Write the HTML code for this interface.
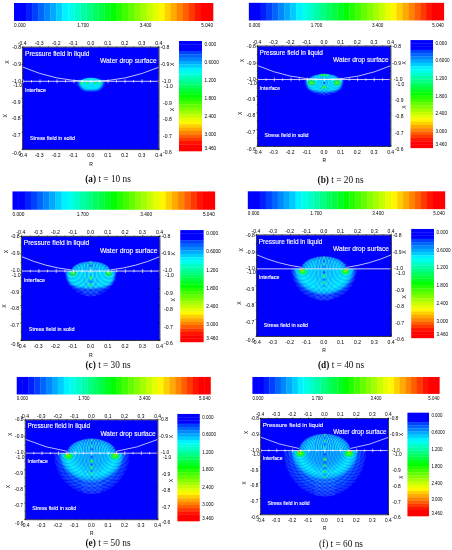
<!DOCTYPE html>
<html><head><meta charset="utf-8"><title>Figure</title>
<style>html,body{margin:0;padding:0;background:#fff}svg{display:block}text{font-family:"Liberation Sans",sans-serif}.cap{font-family:"Liberation Serif",serif;font-size:9.3px;fill:#111}.cap tspan{font-weight:bold}</style></head><body>
<svg width="452" height="550" viewBox="0 0 452 550">
<rect width="452" height="550" fill="#fff"/>
<defs><filter id="blur" x="-10%" y="-10%" width="120%" height="120%"><feGaussianBlur stdDeviation="0.4"/></filter><filter id="blur1" x="-30%" y="-30%" width="160%" height="160%"><feGaussianBlur stdDeviation="1.0"/></filter><filter id="blur2" x="-30%" y="-30%" width="160%" height="160%"><feGaussianBlur stdDeviation="1.8"/></filter><radialGradient id="gr"><stop offset="0" stop-color="#90ff00" stop-opacity="1"/><stop offset="0.38" stop-color="#10ff10" stop-opacity="0.92"/><stop offset="0.7" stop-color="#00ff40" stop-opacity="0.5"/><stop offset="1" stop-color="#00ff80" stop-opacity="0"/></radialGradient><radialGradient id="mb"><stop offset="0" stop-color="#00d0ff"/><stop offset="0.45" stop-color="#00dcff"/><stop offset="0.72" stop-color="#00f8ff"/><stop offset="0.88" stop-color="#00c8ff" stop-opacity="0.95"/><stop offset="1" stop-color="#0050ff" stop-opacity="0"/></radialGradient><radialGradient id="rd"><stop offset="0" stop-color="#ff2000" stop-opacity="1"/><stop offset="0.5" stop-color="#ffb000" stop-opacity="0.9"/><stop offset="1" stop-color="#c0ff00" stop-opacity="0"/></radialGradient><clipPath id="clo"><rect x="0" y="81.3" width="200" height="100"/></clipPath><clipPath id="cL"><rect x="0" y="0" width="102.0" height="200"/></clipPath><clipPath id="cR"><rect x="80.0" y="0" width="200" height="200"/></clipPath><clipPath id="cup"><rect x="0" y="0" width="200" height="81.3"/></clipPath></defs>
<defs><clipPath id="clipa"><rect x="23" y="47.4" width="135.7" height="102.0"/></clipPath></defs>
<g transform="translate(-0.00,-0.00) scale(1.0000)">
<rect x="14.00" y="3" width="6.33" height="18" fill="#0000ff"/>
<rect x="20.03" y="3" width="6.33" height="18" fill="#0000ff"/>
<rect x="26.06" y="3" width="6.33" height="18" fill="#001eff"/>
<rect x="32.09" y="3" width="6.33" height="18" fill="#0041ff"/>
<rect x="38.12" y="3" width="6.33" height="18" fill="#0064ff"/>
<rect x="44.15" y="3" width="6.33" height="18" fill="#0087ff"/>
<rect x="50.18" y="3" width="6.33" height="18" fill="#00aaff"/>
<rect x="56.21" y="3" width="6.33" height="18" fill="#00cdff"/>
<rect x="62.24" y="3" width="6.33" height="18" fill="#00f1ff"/>
<rect x="68.27" y="3" width="6.33" height="18" fill="#00ffeb"/>
<rect x="74.30" y="3" width="6.33" height="18" fill="#00ffca"/>
<rect x="80.33" y="3" width="6.33" height="18" fill="#00ffa8"/>
<rect x="86.36" y="3" width="6.33" height="18" fill="#00ff86"/>
<rect x="92.39" y="3" width="6.33" height="18" fill="#00ff65"/>
<rect x="98.42" y="3" width="6.33" height="18" fill="#00ff43"/>
<rect x="104.45" y="3" width="6.33" height="18" fill="#00ff22"/>
<rect x="110.48" y="3" width="6.33" height="18" fill="#00ff00"/>
<rect x="116.52" y="3" width="6.33" height="18" fill="#21ff00"/>
<rect x="122.55" y="3" width="6.33" height="18" fill="#42ff00"/>
<rect x="128.58" y="3" width="6.33" height="18" fill="#63ff00"/>
<rect x="134.61" y="3" width="6.33" height="18" fill="#84ff00"/>
<rect x="140.64" y="3" width="6.33" height="18" fill="#a4ff00"/>
<rect x="146.67" y="3" width="6.33" height="18" fill="#c5ff00"/>
<rect x="152.70" y="3" width="6.33" height="18" fill="#e6ff00"/>
<rect x="158.73" y="3" width="6.33" height="18" fill="#fff600"/>
<rect x="164.76" y="3" width="6.33" height="18" fill="#ffd000"/>
<rect x="170.79" y="3" width="6.33" height="18" fill="#ffaa00"/>
<rect x="176.82" y="3" width="6.33" height="18" fill="#ff8500"/>
<rect x="182.85" y="3" width="6.33" height="18" fill="#ff5f00"/>
<rect x="188.88" y="3" width="6.33" height="18" fill="#ff3900"/>
<rect x="194.91" y="3" width="6.33" height="18" fill="#ff1400"/>
<rect x="200.94" y="3" width="6.33" height="18" fill="#ff0000"/>
<rect x="206.97" y="3" width="6.33" height="18" fill="#ff0000"/>
<g font-size="4.7" fill="#000">
<text x="14" y="27.2">0.000</text>
<text x="83" y="27.2" text-anchor="middle">1.700</text>
<text x="145.5" y="27.2" text-anchor="middle">3.400</text>
<text x="213" y="27.2" text-anchor="end">5.040</text>
</g>
<rect x="179" y="41.00" width="23" height="3.63" fill="#0000ff"/>
<rect x="179" y="44.33" width="23" height="3.63" fill="#0000ff"/>
<rect x="179" y="47.67" width="23" height="3.63" fill="#0000ff"/>
<rect x="179" y="51.00" width="23" height="3.63" fill="#0041ff"/>
<rect x="179" y="54.33" width="23" height="3.63" fill="#0064ff"/>
<rect x="179" y="57.67" width="23" height="3.63" fill="#0087ff"/>
<rect x="179" y="61.00" width="23" height="3.63" fill="#00aaff"/>
<rect x="179" y="64.33" width="23" height="3.63" fill="#00cdff"/>
<rect x="179" y="67.67" width="23" height="3.63" fill="#00f1ff"/>
<rect x="179" y="71.00" width="23" height="3.63" fill="#00ffeb"/>
<rect x="179" y="74.33" width="23" height="3.63" fill="#00ffca"/>
<rect x="179" y="77.67" width="23" height="3.63" fill="#00ffa8"/>
<rect x="179" y="81.00" width="23" height="3.63" fill="#00ff86"/>
<rect x="179" y="84.33" width="23" height="3.63" fill="#00ff65"/>
<rect x="179" y="87.67" width="23" height="3.63" fill="#00ff43"/>
<rect x="179" y="91.00" width="23" height="3.63" fill="#00ff22"/>
<rect x="179" y="94.33" width="23" height="3.63" fill="#00ff00"/>
<rect x="179" y="97.67" width="23" height="3.63" fill="#21ff00"/>
<rect x="179" y="101.00" width="23" height="3.63" fill="#42ff00"/>
<rect x="179" y="104.33" width="23" height="3.63" fill="#63ff00"/>
<rect x="179" y="107.67" width="23" height="3.63" fill="#84ff00"/>
<rect x="179" y="111.00" width="23" height="3.63" fill="#a4ff00"/>
<rect x="179" y="114.33" width="23" height="3.63" fill="#c5ff00"/>
<rect x="179" y="117.67" width="23" height="3.63" fill="#e6ff00"/>
<rect x="179" y="121.00" width="23" height="3.63" fill="#fff600"/>
<rect x="179" y="124.33" width="23" height="3.63" fill="#ffd000"/>
<rect x="179" y="127.67" width="23" height="3.63" fill="#ffaa00"/>
<rect x="179" y="131.00" width="23" height="3.63" fill="#ff8500"/>
<rect x="179" y="134.33" width="23" height="3.63" fill="#ff5f00"/>
<rect x="179" y="137.67" width="23" height="3.63" fill="#ff3900"/>
<rect x="179" y="141.00" width="23" height="3.63" fill="#ff1400"/>
<rect x="179" y="144.33" width="23" height="3.63" fill="#ff0000"/>
<rect x="179" y="147.67" width="23" height="3.63" fill="#ff0000"/>
<g font-size="4.7" fill="#000">
<text x="204.5" y="46.0">0.000</text>
<text x="204.5" y="63.9">0.6000</text>
<text x="204.5" y="81.8">1.200</text>
<text x="204.5" y="99.7">1.800</text>
<text x="204.5" y="117.6">2.400</text>
<text x="204.5" y="135.5">3.000</text>
<text x="204.5" y="149.6">3.460</text>
</g>
<rect x="23" y="47.4" width="135.7" height="102.0" fill="#0000ff"/>
<g clip-path="url(#clipa)">
<g filter="url(#blur)">
<defs><radialGradient id="loa"><stop offset="0" stop-color="#00f4ff"/><stop offset="0.72" stop-color="#00e0ff"/><stop offset="0.9" stop-color="#0088ff"/><stop offset="1" stop-color="#0010ff"/></radialGradient></defs>
<path d="M78.4 80.8Q78.2 86.8 84.0 89.89999999999999Q91.0 91.3 98.0 89.89999999999999Q103.8 86.8 103.6 80.8Z" fill="#00e4ff" filter="url(#blur1)"/>
<path d="M81.0 81.3A10 3.6 0 0 1 101.0 81.3Z" fill="#00d8ff"/>
<ellipse cx="81.60" cy="83.00" rx="2.00" ry="1.90" fill="url(#gr)" opacity="0.8"/>
<ellipse cx="86.70" cy="83.00" rx="2.00" ry="1.90" fill="url(#gr)" opacity="0.8"/>
<ellipse cx="95.10" cy="83.00" rx="2.00" ry="1.90" fill="url(#gr)" opacity="0.8"/>
<ellipse cx="100.00" cy="83.00" rx="2.00" ry="1.90" fill="url(#gr)" opacity="0.8"/>
</g>
<path d="M23 67.11A170.0 170.0 0 0 0 158.7 67.24" stroke="#fff" stroke-width="0.75" fill="none"/>
<line x1="23" y1="81.3" x2="158.7" y2="81.3" stroke="#fff" stroke-width="0.8"/>
<path d="M23.00 79.40V83.20M31.50 80.00V82.60M40.00 79.40V83.20M48.50 80.00V82.60M57.00 79.40V83.20M65.50 80.00V82.60M74.00 79.40V83.20M82.50 80.00V82.60M91.00 79.40V83.20M99.50 80.00V82.60M108.00 79.40V83.20M116.50 80.00V82.60M125.00 79.40V83.20M133.50 80.00V82.60M142.00 79.40V83.20M150.50 80.00V82.60M159.00 79.40V83.20" stroke="#fff" stroke-width="0.7" fill="none"/>
<g fill="#fff" stroke="#fff" stroke-width="0.12">
<text x="25" y="55.8" font-size="6.6">Pressure field in liquid</text>
<text x="100" y="63.2" font-size="6.7">Water drop surface</text>
<text x="25" y="91.8" font-size="5.4">Interface</text>
<text x="30" y="139.8" font-size="5.4">Stress field in solid</text>
</g>
</g>
<rect x="22.65" y="47.05" width="136.39999999999998" height="102.7" fill="none" stroke="#000" stroke-width="0.7"/>
<path d="M23.00 47.4v-1.6M23.00 149.4v-1.6M31.50 47.4v-1.0M31.50 149.4v-1.0M40.00 47.4v-1.6M40.00 149.4v-1.6M48.50 47.4v-1.0M48.50 149.4v-1.0M57.00 47.4v-1.6M57.00 149.4v-1.6M65.50 47.4v-1.0M65.50 149.4v-1.0M74.00 47.4v-1.6M74.00 149.4v-1.6M82.50 47.4v-1.0M82.50 149.4v-1.0M91.00 47.4v-1.6M91.00 149.4v-1.6M99.50 47.4v-1.0M99.50 149.4v-1.0M108.00 47.4v-1.6M108.00 149.4v-1.6M116.50 47.4v-1.0M116.50 149.4v-1.0M125.00 47.4v-1.6M125.00 149.4v-1.6M133.50 47.4v-1.0M133.50 149.4v-1.0M142.00 47.4v-1.6M142.00 149.4v-1.6M150.50 47.4v-1.0M150.50 149.4v-1.0M159.00 47.4v-1.6M159.00 149.4v-1.6M23 47.40h-1.6M158.7 47.40h-1.6M23 55.90h-1.0M158.7 55.90h-1.0M23 64.40h-1.6M158.7 64.40h-1.6M23 72.90h-1.0M158.7 72.90h-1.0M23 81.40h-1.6M158.7 81.40h-1.6M23 89.90h-1.0M158.7 89.90h-1.0M23 98.40h-1.6M158.7 98.40h-1.6M23 106.90h-1.0M158.7 106.90h-1.0M23 115.40h-1.6M158.7 115.40h-1.6M23 123.90h-1.0M158.7 123.90h-1.0M23 132.40h-1.6M158.7 132.40h-1.6M23 140.90h-1.0M158.7 140.90h-1.0M23 149.40h-1.6M158.7 149.40h-1.6" stroke="#000" stroke-width="0.45" fill="none"/>
<g font-size="5.1" fill="#000">
<text x="22.2" y="44.7" text-anchor="middle">-0.4</text>
<text x="22.8" y="157.0" text-anchor="middle">-0.4</text>
<text x="39.2" y="44.7" text-anchor="middle">-0.3</text>
<text x="39.2" y="157.0" text-anchor="middle">-0.3</text>
<text x="56.2" y="44.7" text-anchor="middle">-0.2</text>
<text x="56.2" y="157.0" text-anchor="middle">-0.2</text>
<text x="73.2" y="44.7" text-anchor="middle">-0.1</text>
<text x="73.2" y="157.0" text-anchor="middle">-0.1</text>
<text x="90.7" y="44.7" text-anchor="middle">0.0</text>
<text x="90.7" y="157.0" text-anchor="middle">0.0</text>
<text x="107.7" y="44.7" text-anchor="middle">0.1</text>
<text x="107.7" y="157.0" text-anchor="middle">0.1</text>
<text x="124.7" y="44.7" text-anchor="middle">0.2</text>
<text x="124.7" y="157.0" text-anchor="middle">0.2</text>
<text x="141.7" y="44.7" text-anchor="middle">0.3</text>
<text x="141.7" y="157.0" text-anchor="middle">0.3</text>
<text x="158.7" y="44.7" text-anchor="middle">0.4</text>
<text x="158.7" y="157.0" text-anchor="middle">0.4</text>
<text x="21" y="48.7" text-anchor="end">-0.8</text>
<text x="21" y="66.0" text-anchor="end">-0.9</text>
<text x="21" y="82.5" text-anchor="end">-1.0</text>
<text x="22" y="86.9" text-anchor="end">-1.0</text>
<text x="20.5" y="103.7" text-anchor="end">-0.9</text>
<text x="20.5" y="120.0" text-anchor="end">-0.8</text>
<text x="20.5" y="136.7" text-anchor="end">-0.7</text>
<text x="21" y="154.7" text-anchor="end">-0.6</text>
<text x="160.5" y="48.7">-0.8</text>
<text x="160.5" y="66.0">-0.9</text>
<text x="162" y="82.6">-1.0</text>
<text x="164" y="87.5">-1.0</text>
<text x="163" y="104.5">-0.9</text>
<text x="163" y="120.7">-0.8</text>
<text x="163" y="138.2">-0.7</text>
<text x="163" y="154.4">-0.6</text>
<text x="91" y="165.5" text-anchor="middle">R</text>
<text transform="translate(9.4,62) rotate(-90)" text-anchor="middle">X</text>
<text transform="translate(7.4,115.75) rotate(-90)" text-anchor="middle">X</text>
<text transform="translate(174.0,64.25) rotate(-90)" text-anchor="middle">X</text>
<text transform="translate(174.0,109.5) rotate(-90)" text-anchor="middle">X</text>
</g>
</g>
<text class="cap" x="108" y="182.3" text-anchor="middle"><tspan>(a)</tspan> t = 10 ns</text>
<defs><clipPath id="clipb"><rect x="23" y="47.4" width="135.7" height="102.0"/></clipPath></defs>
<g transform="translate(235.13,-0.11) scale(0.9797)">
<rect x="14.00" y="3" width="6.33" height="18" fill="#0000ff"/>
<rect x="20.03" y="3" width="6.33" height="18" fill="#0000ff"/>
<rect x="26.06" y="3" width="6.33" height="18" fill="#001eff"/>
<rect x="32.09" y="3" width="6.33" height="18" fill="#0041ff"/>
<rect x="38.12" y="3" width="6.33" height="18" fill="#0064ff"/>
<rect x="44.15" y="3" width="6.33" height="18" fill="#0087ff"/>
<rect x="50.18" y="3" width="6.33" height="18" fill="#00aaff"/>
<rect x="56.21" y="3" width="6.33" height="18" fill="#00cdff"/>
<rect x="62.24" y="3" width="6.33" height="18" fill="#00f1ff"/>
<rect x="68.27" y="3" width="6.33" height="18" fill="#00ffeb"/>
<rect x="74.30" y="3" width="6.33" height="18" fill="#00ffca"/>
<rect x="80.33" y="3" width="6.33" height="18" fill="#00ffa8"/>
<rect x="86.36" y="3" width="6.33" height="18" fill="#00ff86"/>
<rect x="92.39" y="3" width="6.33" height="18" fill="#00ff65"/>
<rect x="98.42" y="3" width="6.33" height="18" fill="#00ff43"/>
<rect x="104.45" y="3" width="6.33" height="18" fill="#00ff22"/>
<rect x="110.48" y="3" width="6.33" height="18" fill="#00ff00"/>
<rect x="116.52" y="3" width="6.33" height="18" fill="#21ff00"/>
<rect x="122.55" y="3" width="6.33" height="18" fill="#42ff00"/>
<rect x="128.58" y="3" width="6.33" height="18" fill="#63ff00"/>
<rect x="134.61" y="3" width="6.33" height="18" fill="#84ff00"/>
<rect x="140.64" y="3" width="6.33" height="18" fill="#a4ff00"/>
<rect x="146.67" y="3" width="6.33" height="18" fill="#c5ff00"/>
<rect x="152.70" y="3" width="6.33" height="18" fill="#e6ff00"/>
<rect x="158.73" y="3" width="6.33" height="18" fill="#fff600"/>
<rect x="164.76" y="3" width="6.33" height="18" fill="#ffd000"/>
<rect x="170.79" y="3" width="6.33" height="18" fill="#ffaa00"/>
<rect x="176.82" y="3" width="6.33" height="18" fill="#ff8500"/>
<rect x="182.85" y="3" width="6.33" height="18" fill="#ff5f00"/>
<rect x="188.88" y="3" width="6.33" height="18" fill="#ff3900"/>
<rect x="194.91" y="3" width="6.33" height="18" fill="#ff1400"/>
<rect x="200.94" y="3" width="6.33" height="18" fill="#ff0000"/>
<rect x="206.97" y="3" width="6.33" height="18" fill="#ff0000"/>
<g font-size="4.7" fill="#000">
<text x="14" y="27.2">0.000</text>
<text x="83" y="27.2" text-anchor="middle">1.700</text>
<text x="145.5" y="27.2" text-anchor="middle">3.400</text>
<text x="213" y="27.2" text-anchor="end">5.040</text>
</g>
<rect x="179" y="41.00" width="23" height="3.63" fill="#0000ff"/>
<rect x="179" y="44.33" width="23" height="3.63" fill="#0000ff"/>
<rect x="179" y="47.67" width="23" height="3.63" fill="#0000ff"/>
<rect x="179" y="51.00" width="23" height="3.63" fill="#0041ff"/>
<rect x="179" y="54.33" width="23" height="3.63" fill="#0064ff"/>
<rect x="179" y="57.67" width="23" height="3.63" fill="#0087ff"/>
<rect x="179" y="61.00" width="23" height="3.63" fill="#00aaff"/>
<rect x="179" y="64.33" width="23" height="3.63" fill="#00cdff"/>
<rect x="179" y="67.67" width="23" height="3.63" fill="#00f1ff"/>
<rect x="179" y="71.00" width="23" height="3.63" fill="#00ffeb"/>
<rect x="179" y="74.33" width="23" height="3.63" fill="#00ffca"/>
<rect x="179" y="77.67" width="23" height="3.63" fill="#00ffa8"/>
<rect x="179" y="81.00" width="23" height="3.63" fill="#00ff86"/>
<rect x="179" y="84.33" width="23" height="3.63" fill="#00ff65"/>
<rect x="179" y="87.67" width="23" height="3.63" fill="#00ff43"/>
<rect x="179" y="91.00" width="23" height="3.63" fill="#00ff22"/>
<rect x="179" y="94.33" width="23" height="3.63" fill="#00ff00"/>
<rect x="179" y="97.67" width="23" height="3.63" fill="#21ff00"/>
<rect x="179" y="101.00" width="23" height="3.63" fill="#42ff00"/>
<rect x="179" y="104.33" width="23" height="3.63" fill="#63ff00"/>
<rect x="179" y="107.67" width="23" height="3.63" fill="#84ff00"/>
<rect x="179" y="111.00" width="23" height="3.63" fill="#a4ff00"/>
<rect x="179" y="114.33" width="23" height="3.63" fill="#c5ff00"/>
<rect x="179" y="117.67" width="23" height="3.63" fill="#e6ff00"/>
<rect x="179" y="121.00" width="23" height="3.63" fill="#fff600"/>
<rect x="179" y="124.33" width="23" height="3.63" fill="#ffd000"/>
<rect x="179" y="127.67" width="23" height="3.63" fill="#ffaa00"/>
<rect x="179" y="131.00" width="23" height="3.63" fill="#ff8500"/>
<rect x="179" y="134.33" width="23" height="3.63" fill="#ff5f00"/>
<rect x="179" y="137.67" width="23" height="3.63" fill="#ff3900"/>
<rect x="179" y="141.00" width="23" height="3.63" fill="#ff1400"/>
<rect x="179" y="144.33" width="23" height="3.63" fill="#ff0000"/>
<rect x="179" y="147.67" width="23" height="3.63" fill="#ff0000"/>
<g font-size="4.7" fill="#000">
<text x="204.5" y="46.0">0.000</text>
<text x="204.5" y="63.9">0.6000</text>
<text x="204.5" y="81.8">1.200</text>
<text x="204.5" y="99.7">1.800</text>
<text x="204.5" y="117.6">2.400</text>
<text x="204.5" y="135.5">3.000</text>
<text x="204.5" y="149.6">3.460</text>
</g>
<rect x="23" y="47.4" width="135.7" height="102.0" fill="#0000ff"/>
<g clip-path="url(#clipb)">
<defs>
<radialGradient id="lob" gradientUnits="userSpaceOnUse" cx="91.0" cy="81.3" r="19.8" gradientTransform="translate(0,81.3) scale(1,0.8182) translate(0,-81.3)"><stop offset="0.000" stop-color="#0083ff"/><stop offset="0.065" stop-color="#0054ff"/><stop offset="0.130" stop-color="#0028ff"/><stop offset="0.194" stop-color="#004eff"/><stop offset="0.259" stop-color="#0071ff"/><stop offset="0.324" stop-color="#0048ff"/><stop offset="0.389" stop-color="#0021ff"/><stop offset="0.454" stop-color="#003dff"/><stop offset="0.519" stop-color="#0053ff"/><stop offset="0.583" stop-color="#0030ff"/><stop offset="0.648" stop-color="#0014ff"/><stop offset="0.713" stop-color="#0022ff"/><stop offset="0.778" stop-color="#0029ff"/><stop offset="0.843" stop-color="#0014ff"/><stop offset="0.907" stop-color="#0006ff"/><stop offset="0.972" stop-color="#0004ff"/></radialGradient>
<radialGradient id="upb" gradientUnits="userSpaceOnUse" cx="91.0" cy="81.3" r="15.6" gradientTransform="translate(0,81.3) scale(1,0.3718) translate(0,-81.3)"><stop offset="0" stop-color="#00e4ff"/><stop offset="0.7" stop-color="#00d4ff"/><stop offset="0.92" stop-color="#00a0ff"/><stop offset="1" stop-color="#0040ff"/></radialGradient>
<radialGradient id="ruLb" gradientUnits="userSpaceOnUse" cx="80.0" cy="81.3" r="2.6" spreadMethod="repeat"><stop offset="0" stop-color="#0018ff" stop-opacity="0.23"/><stop offset="0.5" stop-color="#60ffff" stop-opacity="0.12"/><stop offset="1" stop-color="#0018ff" stop-opacity="0.23"/></radialGradient>
<radialGradient id="rlLb" gradientUnits="userSpaceOnUse" cx="80.0" cy="81.3" r="2.9" spreadMethod="repeat"><stop offset="0" stop-color="#0010ff" stop-opacity="0.14"/><stop offset="0.5" stop-color="#80ffff" stop-opacity="0.14"/><stop offset="1" stop-color="#0010ff" stop-opacity="0.14"/></radialGradient>
<radialGradient id="ruRb" gradientUnits="userSpaceOnUse" cx="102.0" cy="81.3" r="2.6" spreadMethod="repeat"><stop offset="0" stop-color="#0018ff" stop-opacity="0.23"/><stop offset="0.5" stop-color="#60ffff" stop-opacity="0.12"/><stop offset="1" stop-color="#0018ff" stop-opacity="0.23"/></radialGradient>
<radialGradient id="rlRb" gradientUnits="userSpaceOnUse" cx="102.0" cy="81.3" r="2.9" spreadMethod="repeat"><stop offset="0" stop-color="#0010ff" stop-opacity="0.14"/><stop offset="0.5" stop-color="#80ffff" stop-opacity="0.14"/><stop offset="1" stop-color="#0010ff" stop-opacity="0.14"/></radialGradient>
<radialGradient id="mbb"><stop offset="0" stop-color="#00c8ff"/><stop offset="0.45" stop-color="#00d8ff"/><stop offset="0.74" stop-color="#00f4ff"/><stop offset="0.88" stop-color="#00c0ff" stop-opacity="0.95"/><stop offset="1" stop-color="#0050ff" stop-opacity="0"/></radialGradient>
<clipPath id="cLb"><rect x="0" y="0" width="95.4" height="200"/></clipPath><clipPath id="cRb"><rect x="86.6" y="0" width="200" height="200"/></clipPath>
</defs>
<g filter="url(#blur)">
<path d="M71.2 81.3A19.8 16.2 0 0 0 110.8 81.3Z" fill="url(#lob)"/>
<g clip-path="url(#clo)"><path d="M72.4 78.3L72.4 81.3C72.4 92.2 78.0 94.1 91.0 94.1C104.0 94.1 109.6 92.2 109.6 81.3L109.6 78.3Z" fill="#00ecff" opacity="0.95" filter="url(#blur1)"/></g>
<path d="M75.4 81.3A15.6 5.8 0 0 1 106.6 81.3Z" fill="url(#upb)"/>
<g>
<ellipse cx="78.00" cy="84.50" rx="5.20" ry="4.20" fill="url(#gr)" />
<ellipse cx="104.00" cy="84.50" rx="5.20" ry="4.20" fill="url(#gr)" />
</g>
<g clip-path="url(#cLb)"><path d="M71.2 81.3A19.8 16.2 0 0 0 110.8 81.3Z" fill="url(#rlLb)"/>
<path d="M75.4 81.3A15.6 5.8 0 0 1 106.6 81.3Z" fill="url(#ruLb)"/></g>
<g clip-path="url(#cRb)"><path d="M71.2 81.3A19.8 16.2 0 0 0 110.8 81.3Z" fill="url(#rlRb)"/>
<path d="M75.4 81.3A15.6 5.8 0 0 1 106.6 81.3Z" fill="url(#ruRb)"/></g>
<ellipse cx="91.00" cy="84.70" rx="1.30" ry="1.10" fill="#0028ff" opacity="0.80"/>
<path d="M87.4 90.5L91.0 86.5L94.6 90.5Z" fill="#20ff20" opacity="0.8"/>
<ellipse cx="91.00" cy="76.70" rx="5.50" ry="1.30" fill="#20ff40" opacity="0.7"/>
</g>
<path d="M23 67.11A170.0 170.0 0 0 0 158.7 67.24" stroke="#fff" stroke-width="0.75" fill="none"/>
<line x1="23" y1="81.3" x2="158.7" y2="81.3" stroke="#fff" stroke-width="0.8"/>
<path d="M23.00 79.40V83.20M31.50 80.00V82.60M40.00 79.40V83.20M48.50 80.00V82.60M57.00 79.40V83.20M65.50 80.00V82.60M74.00 79.40V83.20M82.50 80.00V82.60M91.00 79.40V83.20M99.50 80.00V82.60M108.00 79.40V83.20M116.50 80.00V82.60M125.00 79.40V83.20M133.50 80.00V82.60M142.00 79.40V83.20M150.50 80.00V82.60M159.00 79.40V83.20" stroke="#fff" stroke-width="0.7" fill="none"/>
<g fill="#fff" stroke="#fff" stroke-width="0.12">
<text x="25" y="55.8" font-size="6.6">Pressure field in liquid</text>
<text x="100" y="63.2" font-size="6.7">Water drop surface</text>
<text x="25" y="91.8" font-size="5.4">Interface</text>
<text x="30" y="139.8" font-size="5.4">Stress field in solid</text>
</g>
</g>
<rect x="22.65" y="47.05" width="136.39999999999998" height="102.7" fill="none" stroke="#000" stroke-width="0.7"/>
<path d="M23.00 47.4v-1.6M23.00 149.4v-1.6M31.50 47.4v-1.0M31.50 149.4v-1.0M40.00 47.4v-1.6M40.00 149.4v-1.6M48.50 47.4v-1.0M48.50 149.4v-1.0M57.00 47.4v-1.6M57.00 149.4v-1.6M65.50 47.4v-1.0M65.50 149.4v-1.0M74.00 47.4v-1.6M74.00 149.4v-1.6M82.50 47.4v-1.0M82.50 149.4v-1.0M91.00 47.4v-1.6M91.00 149.4v-1.6M99.50 47.4v-1.0M99.50 149.4v-1.0M108.00 47.4v-1.6M108.00 149.4v-1.6M116.50 47.4v-1.0M116.50 149.4v-1.0M125.00 47.4v-1.6M125.00 149.4v-1.6M133.50 47.4v-1.0M133.50 149.4v-1.0M142.00 47.4v-1.6M142.00 149.4v-1.6M150.50 47.4v-1.0M150.50 149.4v-1.0M159.00 47.4v-1.6M159.00 149.4v-1.6M23 47.40h-1.6M158.7 47.40h-1.6M23 55.90h-1.0M158.7 55.90h-1.0M23 64.40h-1.6M158.7 64.40h-1.6M23 72.90h-1.0M158.7 72.90h-1.0M23 81.40h-1.6M158.7 81.40h-1.6M23 89.90h-1.0M158.7 89.90h-1.0M23 98.40h-1.6M158.7 98.40h-1.6M23 106.90h-1.0M158.7 106.90h-1.0M23 115.40h-1.6M158.7 115.40h-1.6M23 123.90h-1.0M158.7 123.90h-1.0M23 132.40h-1.6M158.7 132.40h-1.6M23 140.90h-1.0M158.7 140.90h-1.0M23 149.40h-1.6M158.7 149.40h-1.6" stroke="#000" stroke-width="0.45" fill="none"/>
<g font-size="5.1" fill="#000">
<text x="22.2" y="44.7" text-anchor="middle">-0.4</text>
<text x="22.8" y="157.0" text-anchor="middle">-0.4</text>
<text x="39.2" y="44.7" text-anchor="middle">-0.3</text>
<text x="39.2" y="157.0" text-anchor="middle">-0.3</text>
<text x="56.2" y="44.7" text-anchor="middle">-0.2</text>
<text x="56.2" y="157.0" text-anchor="middle">-0.2</text>
<text x="73.2" y="44.7" text-anchor="middle">-0.1</text>
<text x="73.2" y="157.0" text-anchor="middle">-0.1</text>
<text x="90.7" y="44.7" text-anchor="middle">0.0</text>
<text x="90.7" y="157.0" text-anchor="middle">0.0</text>
<text x="107.7" y="44.7" text-anchor="middle">0.1</text>
<text x="107.7" y="157.0" text-anchor="middle">0.1</text>
<text x="124.7" y="44.7" text-anchor="middle">0.2</text>
<text x="124.7" y="157.0" text-anchor="middle">0.2</text>
<text x="141.7" y="44.7" text-anchor="middle">0.3</text>
<text x="141.7" y="157.0" text-anchor="middle">0.3</text>
<text x="158.7" y="44.7" text-anchor="middle">0.4</text>
<text x="158.7" y="157.0" text-anchor="middle">0.4</text>
<text x="21" y="48.7" text-anchor="end">-0.8</text>
<text x="21" y="66.0" text-anchor="end">-0.9</text>
<text x="21" y="82.5" text-anchor="end">-1.0</text>
<text x="22" y="86.9" text-anchor="end">-1.0</text>
<text x="20.5" y="103.7" text-anchor="end">-0.9</text>
<text x="20.5" y="120.0" text-anchor="end">-0.8</text>
<text x="20.5" y="136.7" text-anchor="end">-0.7</text>
<text x="21" y="154.7" text-anchor="end">-0.6</text>
<text x="160.5" y="48.7">-0.8</text>
<text x="160.5" y="66.0">-0.9</text>
<text x="162" y="82.6">-1.0</text>
<text x="164" y="87.5">-1.0</text>
<text x="163" y="104.5">-0.9</text>
<text x="163" y="120.7">-0.8</text>
<text x="163" y="138.2">-0.7</text>
<text x="163" y="154.4">-0.6</text>
<text x="91" y="165.5" text-anchor="middle">R</text>
<text transform="translate(9.4,62) rotate(-90)" text-anchor="middle">X</text>
<text transform="translate(7.4,115.75) rotate(-90)" text-anchor="middle">X</text>
<text transform="translate(174.0,64.25) rotate(-90)" text-anchor="middle">X</text>
<text transform="translate(174.0,109.5) rotate(-90)" text-anchor="middle">X</text>
</g>
</g>
<text class="cap" x="340.6" y="182.6" text-anchor="middle"><tspan>(b)</tspan> t = 20 ns</text>
<defs><clipPath id="clipc"><rect x="23" y="47.4" width="135.7" height="102.0"/></clipPath></defs>
<g transform="translate(-1.75,188.39) scale(1.0168)">
<rect x="14.00" y="3" width="6.33" height="18" fill="#0000ff"/>
<rect x="20.03" y="3" width="6.33" height="18" fill="#0000ff"/>
<rect x="26.06" y="3" width="6.33" height="18" fill="#001eff"/>
<rect x="32.09" y="3" width="6.33" height="18" fill="#0041ff"/>
<rect x="38.12" y="3" width="6.33" height="18" fill="#0064ff"/>
<rect x="44.15" y="3" width="6.33" height="18" fill="#0087ff"/>
<rect x="50.18" y="3" width="6.33" height="18" fill="#00aaff"/>
<rect x="56.21" y="3" width="6.33" height="18" fill="#00cdff"/>
<rect x="62.24" y="3" width="6.33" height="18" fill="#00f1ff"/>
<rect x="68.27" y="3" width="6.33" height="18" fill="#00ffeb"/>
<rect x="74.30" y="3" width="6.33" height="18" fill="#00ffca"/>
<rect x="80.33" y="3" width="6.33" height="18" fill="#00ffa8"/>
<rect x="86.36" y="3" width="6.33" height="18" fill="#00ff86"/>
<rect x="92.39" y="3" width="6.33" height="18" fill="#00ff65"/>
<rect x="98.42" y="3" width="6.33" height="18" fill="#00ff43"/>
<rect x="104.45" y="3" width="6.33" height="18" fill="#00ff22"/>
<rect x="110.48" y="3" width="6.33" height="18" fill="#00ff00"/>
<rect x="116.52" y="3" width="6.33" height="18" fill="#21ff00"/>
<rect x="122.55" y="3" width="6.33" height="18" fill="#42ff00"/>
<rect x="128.58" y="3" width="6.33" height="18" fill="#63ff00"/>
<rect x="134.61" y="3" width="6.33" height="18" fill="#84ff00"/>
<rect x="140.64" y="3" width="6.33" height="18" fill="#a4ff00"/>
<rect x="146.67" y="3" width="6.33" height="18" fill="#c5ff00"/>
<rect x="152.70" y="3" width="6.33" height="18" fill="#e6ff00"/>
<rect x="158.73" y="3" width="6.33" height="18" fill="#fff600"/>
<rect x="164.76" y="3" width="6.33" height="18" fill="#ffd000"/>
<rect x="170.79" y="3" width="6.33" height="18" fill="#ffaa00"/>
<rect x="176.82" y="3" width="6.33" height="18" fill="#ff8500"/>
<rect x="182.85" y="3" width="6.33" height="18" fill="#ff5f00"/>
<rect x="188.88" y="3" width="6.33" height="18" fill="#ff3900"/>
<rect x="194.91" y="3" width="6.33" height="18" fill="#ff1400"/>
<rect x="200.94" y="3" width="6.33" height="18" fill="#ff0000"/>
<rect x="206.97" y="3" width="6.33" height="18" fill="#ff0000"/>
<g font-size="4.7" fill="#000">
<text x="14" y="27.2">0.000</text>
<text x="83" y="27.2" text-anchor="middle">1.700</text>
<text x="145.5" y="27.2" text-anchor="middle">3.400</text>
<text x="213" y="27.2" text-anchor="end">5.040</text>
</g>
<rect x="179" y="41.00" width="23" height="3.63" fill="#0000ff"/>
<rect x="179" y="44.33" width="23" height="3.63" fill="#0000ff"/>
<rect x="179" y="47.67" width="23" height="3.63" fill="#0000ff"/>
<rect x="179" y="51.00" width="23" height="3.63" fill="#0041ff"/>
<rect x="179" y="54.33" width="23" height="3.63" fill="#0064ff"/>
<rect x="179" y="57.67" width="23" height="3.63" fill="#0087ff"/>
<rect x="179" y="61.00" width="23" height="3.63" fill="#00aaff"/>
<rect x="179" y="64.33" width="23" height="3.63" fill="#00cdff"/>
<rect x="179" y="67.67" width="23" height="3.63" fill="#00f1ff"/>
<rect x="179" y="71.00" width="23" height="3.63" fill="#00ffeb"/>
<rect x="179" y="74.33" width="23" height="3.63" fill="#00ffca"/>
<rect x="179" y="77.67" width="23" height="3.63" fill="#00ffa8"/>
<rect x="179" y="81.00" width="23" height="3.63" fill="#00ff86"/>
<rect x="179" y="84.33" width="23" height="3.63" fill="#00ff65"/>
<rect x="179" y="87.67" width="23" height="3.63" fill="#00ff43"/>
<rect x="179" y="91.00" width="23" height="3.63" fill="#00ff22"/>
<rect x="179" y="94.33" width="23" height="3.63" fill="#00ff00"/>
<rect x="179" y="97.67" width="23" height="3.63" fill="#21ff00"/>
<rect x="179" y="101.00" width="23" height="3.63" fill="#42ff00"/>
<rect x="179" y="104.33" width="23" height="3.63" fill="#63ff00"/>
<rect x="179" y="107.67" width="23" height="3.63" fill="#84ff00"/>
<rect x="179" y="111.00" width="23" height="3.63" fill="#a4ff00"/>
<rect x="179" y="114.33" width="23" height="3.63" fill="#c5ff00"/>
<rect x="179" y="117.67" width="23" height="3.63" fill="#e6ff00"/>
<rect x="179" y="121.00" width="23" height="3.63" fill="#fff600"/>
<rect x="179" y="124.33" width="23" height="3.63" fill="#ffd000"/>
<rect x="179" y="127.67" width="23" height="3.63" fill="#ffaa00"/>
<rect x="179" y="131.00" width="23" height="3.63" fill="#ff8500"/>
<rect x="179" y="134.33" width="23" height="3.63" fill="#ff5f00"/>
<rect x="179" y="137.67" width="23" height="3.63" fill="#ff3900"/>
<rect x="179" y="141.00" width="23" height="3.63" fill="#ff1400"/>
<rect x="179" y="144.33" width="23" height="3.63" fill="#ff0000"/>
<rect x="179" y="147.67" width="23" height="3.63" fill="#ff0000"/>
<g font-size="4.7" fill="#000">
<text x="204.5" y="46.0">0.000</text>
<text x="204.5" y="63.9">0.6000</text>
<text x="204.5" y="81.8">1.200</text>
<text x="204.5" y="99.7">1.800</text>
<text x="204.5" y="117.6">2.400</text>
<text x="204.5" y="135.5">3.000</text>
<text x="204.5" y="149.6">3.460</text>
</g>
<rect x="23" y="47.4" width="135.7" height="102.0" fill="#0000ff"/>
<g clip-path="url(#clipc)">
<defs>
<radialGradient id="loc" gradientUnits="userSpaceOnUse" cx="91.0" cy="81.3" r="25.0" gradientTransform="translate(0,81.3) scale(1,1.0000) translate(0,-81.3)"><stop offset="0.000" stop-color="#00ffff"/><stop offset="0.042" stop-color="#00abff"/><stop offset="0.084" stop-color="#0053ff"/><stop offset="0.126" stop-color="#00a3ff"/><stop offset="0.168" stop-color="#00eeff"/><stop offset="0.210" stop-color="#009bff"/><stop offset="0.252" stop-color="#004bff"/><stop offset="0.294" stop-color="#0093ff"/><stop offset="0.336" stop-color="#00d7ff"/><stop offset="0.378" stop-color="#0089ff"/><stop offset="0.420" stop-color="#0040ff"/><stop offset="0.462" stop-color="#0079ff"/><stop offset="0.504" stop-color="#00aaff"/><stop offset="0.546" stop-color="#0069ff"/><stop offset="0.588" stop-color="#0030ff"/><stop offset="0.630" stop-color="#0057ff"/><stop offset="0.672" stop-color="#0075ff"/><stop offset="0.714" stop-color="#0045ff"/><stop offset="0.756" stop-color="#001eff"/><stop offset="0.798" stop-color="#0033ff"/><stop offset="0.840" stop-color="#003eff"/><stop offset="0.882" stop-color="#0020ff"/><stop offset="0.924" stop-color="#000bff"/><stop offset="0.966" stop-color="#000aff"/></radialGradient>
<radialGradient id="upc" gradientUnits="userSpaceOnUse" cx="91.0" cy="81.3" r="19.4" gradientTransform="translate(0,81.3) scale(1,0.4948) translate(0,-81.3)"><stop offset="0" stop-color="#00e4ff"/><stop offset="0.7" stop-color="#00d4ff"/><stop offset="0.92" stop-color="#00a0ff"/><stop offset="1" stop-color="#0040ff"/></radialGradient>
<radialGradient id="ruLc" gradientUnits="userSpaceOnUse" cx="72.4" cy="81.3" r="3.0" spreadMethod="repeat"><stop offset="0" stop-color="#0018ff" stop-opacity="0.30"/><stop offset="0.5" stop-color="#60ffff" stop-opacity="0.12"/><stop offset="1" stop-color="#0018ff" stop-opacity="0.30"/></radialGradient>
<radialGradient id="rlLc" gradientUnits="userSpaceOnUse" cx="72.4" cy="81.3" r="3.8" spreadMethod="repeat"><stop offset="0" stop-color="#0010ff" stop-opacity="0.18"/><stop offset="0.5" stop-color="#80ffff" stop-opacity="0.14"/><stop offset="1" stop-color="#0010ff" stop-opacity="0.18"/></radialGradient>
<radialGradient id="ruRc" gradientUnits="userSpaceOnUse" cx="109.6" cy="81.3" r="3.0" spreadMethod="repeat"><stop offset="0" stop-color="#0018ff" stop-opacity="0.30"/><stop offset="0.5" stop-color="#60ffff" stop-opacity="0.12"/><stop offset="1" stop-color="#0018ff" stop-opacity="0.30"/></radialGradient>
<radialGradient id="rlRc" gradientUnits="userSpaceOnUse" cx="109.6" cy="81.3" r="3.8" spreadMethod="repeat"><stop offset="0" stop-color="#0010ff" stop-opacity="0.18"/><stop offset="0.5" stop-color="#80ffff" stop-opacity="0.14"/><stop offset="1" stop-color="#0010ff" stop-opacity="0.18"/></radialGradient>
<radialGradient id="mbc"><stop offset="0" stop-color="#00c8ff"/><stop offset="0.45" stop-color="#00d8ff"/><stop offset="0.74" stop-color="#00f4ff"/><stop offset="0.88" stop-color="#00c0ff" stop-opacity="0.95"/><stop offset="1" stop-color="#0050ff" stop-opacity="0"/></radialGradient>
<clipPath id="cLc"><rect x="0" y="0" width="98.4" height="200"/></clipPath><clipPath id="cRc"><rect x="83.6" y="0" width="200" height="200"/></clipPath>
</defs>
<g filter="url(#blur)">
<path d="M66.0 81.3A25.0 25.0 0 0 0 116.0 81.3Z" fill="url(#loc)"/>
<g clip-path="url(#clo)"><path d="M67.2 78.3L67.2 81.3C67.2 95.8 74.3 98.3 91.0 98.3C107.7 98.3 114.8 95.8 114.8 81.3L114.8 78.3Z" fill="#00ecff" opacity="0.97" filter="url(#blur1)"/></g>
<path d="M71.6 81.3A19.4 9.6 0 0 1 110.4 81.3Z" fill="url(#upc)"/>
<g clip-path="url(#clo)">
<ellipse cx="73.60" cy="83.70" rx="4.40" ry="3.80" fill="url(#gr)" />
<ellipse cx="108.40" cy="83.70" rx="4.40" ry="3.80" fill="url(#gr)" />
</g>
<g clip-path="url(#cLc)"><path d="M66.0 81.3A25.0 25.0 0 0 0 116.0 81.3Z" fill="url(#rlLc)"/>
<path d="M71.6 81.3A19.4 9.6 0 0 1 110.4 81.3Z" fill="url(#ruLc)"/></g>
<g clip-path="url(#cRc)"><path d="M66.0 81.3A25.0 25.0 0 0 0 116.0 81.3Z" fill="url(#rlRc)"/>
<path d="M71.6 81.3A19.4 9.6 0 0 1 110.4 81.3Z" fill="url(#ruRc)"/></g>
<ellipse cx="91.00" cy="88.00" rx="1.60" ry="1.50" fill="#30ff30" opacity="0.85"/>
<ellipse cx="91.00" cy="91.80" rx="1.30" ry="1.10" fill="#0028ff" opacity="0.64"/>
<ellipse cx="91.00" cy="94.90" rx="1.60" ry="1.50" fill="#30ff30" opacity="0.51"/>
<ellipse cx="91.00" cy="72.70" rx="1.30" ry="1.10" fill="#40ff40" opacity="0.6"/>
<ellipse cx="91.00" cy="76.10" rx="1.20" ry="1.00" fill="#0040ff" opacity="0.7"/>
<ellipse cx="91.00" cy="78.90" rx="1.30" ry="1.10" fill="#40ff40" opacity="0.6"/>
</g>
<path d="M23 67.11A170.0 170.0 0 0 0 71.80 80.21M110.20 80.21A170.0 170.0 0 0 0 158.7 67.24" stroke="#fff" stroke-width="0.75" fill="none"/>
<line x1="23" y1="81.3" x2="158.7" y2="81.3" stroke="#fff" stroke-width="0.8"/>
<path d="M23.00 79.40V83.20M31.50 80.00V82.60M40.00 79.40V83.20M48.50 80.00V82.60M57.00 79.40V83.20M65.50 80.00V82.60M74.00 79.40V83.20M82.50 80.00V82.60M91.00 79.40V83.20M99.50 80.00V82.60M108.00 79.40V83.20M116.50 80.00V82.60M125.00 79.40V83.20M133.50 80.00V82.60M142.00 79.40V83.20M150.50 80.00V82.60M159.00 79.40V83.20" stroke="#fff" stroke-width="0.7" fill="none"/>
<g fill="#fff" stroke="#fff" stroke-width="0.12">
<text x="25" y="55.8" font-size="6.6">Pressure field in liquid</text>
<text x="100" y="63.2" font-size="6.7">Water drop surface</text>
<text x="25" y="91.8" font-size="5.4">Interface</text>
<text x="30" y="139.8" font-size="5.4">Stress field in solid</text>
</g>
</g>
<rect x="22.65" y="47.05" width="136.39999999999998" height="102.7" fill="none" stroke="#000" stroke-width="0.7"/>
<path d="M23.00 47.4v-1.6M23.00 149.4v-1.6M31.50 47.4v-1.0M31.50 149.4v-1.0M40.00 47.4v-1.6M40.00 149.4v-1.6M48.50 47.4v-1.0M48.50 149.4v-1.0M57.00 47.4v-1.6M57.00 149.4v-1.6M65.50 47.4v-1.0M65.50 149.4v-1.0M74.00 47.4v-1.6M74.00 149.4v-1.6M82.50 47.4v-1.0M82.50 149.4v-1.0M91.00 47.4v-1.6M91.00 149.4v-1.6M99.50 47.4v-1.0M99.50 149.4v-1.0M108.00 47.4v-1.6M108.00 149.4v-1.6M116.50 47.4v-1.0M116.50 149.4v-1.0M125.00 47.4v-1.6M125.00 149.4v-1.6M133.50 47.4v-1.0M133.50 149.4v-1.0M142.00 47.4v-1.6M142.00 149.4v-1.6M150.50 47.4v-1.0M150.50 149.4v-1.0M159.00 47.4v-1.6M159.00 149.4v-1.6M23 47.40h-1.6M158.7 47.40h-1.6M23 55.90h-1.0M158.7 55.90h-1.0M23 64.40h-1.6M158.7 64.40h-1.6M23 72.90h-1.0M158.7 72.90h-1.0M23 81.40h-1.6M158.7 81.40h-1.6M23 89.90h-1.0M158.7 89.90h-1.0M23 98.40h-1.6M158.7 98.40h-1.6M23 106.90h-1.0M158.7 106.90h-1.0M23 115.40h-1.6M158.7 115.40h-1.6M23 123.90h-1.0M158.7 123.90h-1.0M23 132.40h-1.6M158.7 132.40h-1.6M23 140.90h-1.0M158.7 140.90h-1.0M23 149.40h-1.6M158.7 149.40h-1.6" stroke="#000" stroke-width="0.45" fill="none"/>
<g font-size="5.1" fill="#000">
<text x="22.2" y="44.7" text-anchor="middle">-0.4</text>
<text x="22.8" y="157.0" text-anchor="middle">-0.4</text>
<text x="39.2" y="44.7" text-anchor="middle">-0.3</text>
<text x="39.2" y="157.0" text-anchor="middle">-0.3</text>
<text x="56.2" y="44.7" text-anchor="middle">-0.2</text>
<text x="56.2" y="157.0" text-anchor="middle">-0.2</text>
<text x="73.2" y="44.7" text-anchor="middle">-0.1</text>
<text x="73.2" y="157.0" text-anchor="middle">-0.1</text>
<text x="90.7" y="44.7" text-anchor="middle">0.0</text>
<text x="90.7" y="157.0" text-anchor="middle">0.0</text>
<text x="107.7" y="44.7" text-anchor="middle">0.1</text>
<text x="107.7" y="157.0" text-anchor="middle">0.1</text>
<text x="124.7" y="44.7" text-anchor="middle">0.2</text>
<text x="124.7" y="157.0" text-anchor="middle">0.2</text>
<text x="141.7" y="44.7" text-anchor="middle">0.3</text>
<text x="141.7" y="157.0" text-anchor="middle">0.3</text>
<text x="158.7" y="44.7" text-anchor="middle">0.4</text>
<text x="158.7" y="157.0" text-anchor="middle">0.4</text>
<text x="21" y="48.7" text-anchor="end">-0.8</text>
<text x="21" y="66.0" text-anchor="end">-0.9</text>
<text x="21" y="82.5" text-anchor="end">-1.0</text>
<text x="22" y="86.9" text-anchor="end">-1.0</text>
<text x="20.5" y="103.7" text-anchor="end">-0.9</text>
<text x="20.5" y="120.0" text-anchor="end">-0.8</text>
<text x="20.5" y="136.7" text-anchor="end">-0.7</text>
<text x="21" y="154.7" text-anchor="end">-0.6</text>
<text x="160.5" y="48.7">-0.8</text>
<text x="160.5" y="66.0">-0.9</text>
<text x="162" y="82.6">-1.0</text>
<text x="164" y="87.5">-1.0</text>
<text x="163" y="104.5">-0.9</text>
<text x="163" y="120.7">-0.8</text>
<text x="163" y="138.2">-0.7</text>
<text x="163" y="154.4">-0.6</text>
<text x="91" y="165.5" text-anchor="middle">R</text>
<text transform="translate(9.4,62) rotate(-90)" text-anchor="middle">X</text>
<text transform="translate(7.4,115.75) rotate(-90)" text-anchor="middle">X</text>
<text transform="translate(174.0,64.25) rotate(-90)" text-anchor="middle">X</text>
<text transform="translate(174.0,109.5) rotate(-90)" text-anchor="middle">X</text>
</g>
</g>
<text class="cap" x="108" y="368.3" text-anchor="middle"><tspan>(c)</tspan> t = 30 ns</text>
<defs><clipPath id="clipd"><rect x="23" y="47.4" width="135.7" height="102.0"/></clipPath></defs>
<g transform="translate(233.95,188.34) scale(0.9903)">
<rect x="14.00" y="3" width="6.33" height="18" fill="#0000ff"/>
<rect x="20.03" y="3" width="6.33" height="18" fill="#0000ff"/>
<rect x="26.06" y="3" width="6.33" height="18" fill="#001eff"/>
<rect x="32.09" y="3" width="6.33" height="18" fill="#0041ff"/>
<rect x="38.12" y="3" width="6.33" height="18" fill="#0064ff"/>
<rect x="44.15" y="3" width="6.33" height="18" fill="#0087ff"/>
<rect x="50.18" y="3" width="6.33" height="18" fill="#00aaff"/>
<rect x="56.21" y="3" width="6.33" height="18" fill="#00cdff"/>
<rect x="62.24" y="3" width="6.33" height="18" fill="#00f1ff"/>
<rect x="68.27" y="3" width="6.33" height="18" fill="#00ffeb"/>
<rect x="74.30" y="3" width="6.33" height="18" fill="#00ffca"/>
<rect x="80.33" y="3" width="6.33" height="18" fill="#00ffa8"/>
<rect x="86.36" y="3" width="6.33" height="18" fill="#00ff86"/>
<rect x="92.39" y="3" width="6.33" height="18" fill="#00ff65"/>
<rect x="98.42" y="3" width="6.33" height="18" fill="#00ff43"/>
<rect x="104.45" y="3" width="6.33" height="18" fill="#00ff22"/>
<rect x="110.48" y="3" width="6.33" height="18" fill="#00ff00"/>
<rect x="116.52" y="3" width="6.33" height="18" fill="#21ff00"/>
<rect x="122.55" y="3" width="6.33" height="18" fill="#42ff00"/>
<rect x="128.58" y="3" width="6.33" height="18" fill="#63ff00"/>
<rect x="134.61" y="3" width="6.33" height="18" fill="#84ff00"/>
<rect x="140.64" y="3" width="6.33" height="18" fill="#a4ff00"/>
<rect x="146.67" y="3" width="6.33" height="18" fill="#c5ff00"/>
<rect x="152.70" y="3" width="6.33" height="18" fill="#e6ff00"/>
<rect x="158.73" y="3" width="6.33" height="18" fill="#fff600"/>
<rect x="164.76" y="3" width="6.33" height="18" fill="#ffd000"/>
<rect x="170.79" y="3" width="6.33" height="18" fill="#ffaa00"/>
<rect x="176.82" y="3" width="6.33" height="18" fill="#ff8500"/>
<rect x="182.85" y="3" width="6.33" height="18" fill="#ff5f00"/>
<rect x="188.88" y="3" width="6.33" height="18" fill="#ff3900"/>
<rect x="194.91" y="3" width="6.33" height="18" fill="#ff1400"/>
<rect x="200.94" y="3" width="6.33" height="18" fill="#ff0000"/>
<rect x="206.97" y="3" width="6.33" height="18" fill="#ff0000"/>
<g font-size="4.7" fill="#000">
<text x="14" y="27.2">0.000</text>
<text x="83" y="27.2" text-anchor="middle">1.700</text>
<text x="145.5" y="27.2" text-anchor="middle">3.400</text>
<text x="213" y="27.2" text-anchor="end">5.040</text>
</g>
<rect x="179" y="41.00" width="23" height="3.63" fill="#0000ff"/>
<rect x="179" y="44.33" width="23" height="3.63" fill="#0000ff"/>
<rect x="179" y="47.67" width="23" height="3.63" fill="#0000ff"/>
<rect x="179" y="51.00" width="23" height="3.63" fill="#0041ff"/>
<rect x="179" y="54.33" width="23" height="3.63" fill="#0064ff"/>
<rect x="179" y="57.67" width="23" height="3.63" fill="#0087ff"/>
<rect x="179" y="61.00" width="23" height="3.63" fill="#00aaff"/>
<rect x="179" y="64.33" width="23" height="3.63" fill="#00cdff"/>
<rect x="179" y="67.67" width="23" height="3.63" fill="#00f1ff"/>
<rect x="179" y="71.00" width="23" height="3.63" fill="#00ffeb"/>
<rect x="179" y="74.33" width="23" height="3.63" fill="#00ffca"/>
<rect x="179" y="77.67" width="23" height="3.63" fill="#00ffa8"/>
<rect x="179" y="81.00" width="23" height="3.63" fill="#00ff86"/>
<rect x="179" y="84.33" width="23" height="3.63" fill="#00ff65"/>
<rect x="179" y="87.67" width="23" height="3.63" fill="#00ff43"/>
<rect x="179" y="91.00" width="23" height="3.63" fill="#00ff22"/>
<rect x="179" y="94.33" width="23" height="3.63" fill="#00ff00"/>
<rect x="179" y="97.67" width="23" height="3.63" fill="#21ff00"/>
<rect x="179" y="101.00" width="23" height="3.63" fill="#42ff00"/>
<rect x="179" y="104.33" width="23" height="3.63" fill="#63ff00"/>
<rect x="179" y="107.67" width="23" height="3.63" fill="#84ff00"/>
<rect x="179" y="111.00" width="23" height="3.63" fill="#a4ff00"/>
<rect x="179" y="114.33" width="23" height="3.63" fill="#c5ff00"/>
<rect x="179" y="117.67" width="23" height="3.63" fill="#e6ff00"/>
<rect x="179" y="121.00" width="23" height="3.63" fill="#fff600"/>
<rect x="179" y="124.33" width="23" height="3.63" fill="#ffd000"/>
<rect x="179" y="127.67" width="23" height="3.63" fill="#ffaa00"/>
<rect x="179" y="131.00" width="23" height="3.63" fill="#ff8500"/>
<rect x="179" y="134.33" width="23" height="3.63" fill="#ff5f00"/>
<rect x="179" y="137.67" width="23" height="3.63" fill="#ff3900"/>
<rect x="179" y="141.00" width="23" height="3.63" fill="#ff1400"/>
<rect x="179" y="144.33" width="23" height="3.63" fill="#ff0000"/>
<rect x="179" y="147.67" width="23" height="3.63" fill="#ff0000"/>
<g font-size="4.7" fill="#000">
<text x="204.5" y="46.0">0.000</text>
<text x="204.5" y="63.9">0.6000</text>
<text x="204.5" y="81.8">1.200</text>
<text x="204.5" y="99.7">1.800</text>
<text x="204.5" y="117.6">2.400</text>
<text x="204.5" y="135.5">3.000</text>
<text x="204.5" y="149.6">3.460</text>
</g>
<rect x="23" y="47.4" width="135.7" height="102.0" fill="#0000ff"/>
<g clip-path="url(#clipd)">
<defs>
<radialGradient id="lod" gradientUnits="userSpaceOnUse" cx="91.0" cy="81.3" r="33.4" gradientTransform="translate(0,81.3) scale(1,0.9641) translate(0,-81.3)"><stop offset="0.000" stop-color="#00ffff"/><stop offset="0.033" stop-color="#00c4ff"/><stop offset="0.065" stop-color="#0060ff"/><stop offset="0.098" stop-color="#00bdff"/><stop offset="0.130" stop-color="#00ffff"/><stop offset="0.163" stop-color="#00b6ff"/><stop offset="0.196" stop-color="#0059ff"/><stop offset="0.228" stop-color="#00afff"/><stop offset="0.261" stop-color="#00ffff"/><stop offset="0.293" stop-color="#00a8ff"/><stop offset="0.326" stop-color="#0052ff"/><stop offset="0.359" stop-color="#00a0ff"/><stop offset="0.391" stop-color="#00e6ff"/><stop offset="0.424" stop-color="#0092ff"/><stop offset="0.457" stop-color="#0045ff"/><stop offset="0.489" stop-color="#0084ff"/><stop offset="0.522" stop-color="#00bdff"/><stop offset="0.554" stop-color="#0076ff"/><stop offset="0.587" stop-color="#0037ff"/><stop offset="0.620" stop-color="#0066ff"/><stop offset="0.652" stop-color="#008dff"/><stop offset="0.685" stop-color="#0056ff"/><stop offset="0.717" stop-color="#0027ff"/><stop offset="0.750" stop-color="#0046ff"/><stop offset="0.783" stop-color="#005dff"/><stop offset="0.815" stop-color="#0036ff"/><stop offset="0.848" stop-color="#0016ff"/><stop offset="0.880" stop-color="#0025ff"/><stop offset="0.913" stop-color="#002aff"/><stop offset="0.946" stop-color="#0013ff"/><stop offset="0.978" stop-color="#0003ff"/></radialGradient>
<radialGradient id="upd" gradientUnits="userSpaceOnUse" cx="91.0" cy="81.3" r="23.0" gradientTransform="translate(0,81.3) scale(1,0.5478) translate(0,-81.3)"><stop offset="0" stop-color="#00e4ff"/><stop offset="0.7" stop-color="#00d4ff"/><stop offset="0.92" stop-color="#00a0ff"/><stop offset="1" stop-color="#0040ff"/></radialGradient>
<radialGradient id="ruLd" gradientUnits="userSpaceOnUse" cx="68.3" cy="81.3" r="3.0" spreadMethod="repeat"><stop offset="0" stop-color="#0018ff" stop-opacity="0.34"/><stop offset="0.5" stop-color="#60ffff" stop-opacity="0.12"/><stop offset="1" stop-color="#0018ff" stop-opacity="0.34"/></radialGradient>
<radialGradient id="rlLd" gradientUnits="userSpaceOnUse" cx="68.3" cy="81.3" r="3.9" spreadMethod="repeat"><stop offset="0" stop-color="#0010ff" stop-opacity="0.21"/><stop offset="0.5" stop-color="#80ffff" stop-opacity="0.14"/><stop offset="1" stop-color="#0010ff" stop-opacity="0.21"/></radialGradient>
<radialGradient id="ruRd" gradientUnits="userSpaceOnUse" cx="113.7" cy="81.3" r="3.0" spreadMethod="repeat"><stop offset="0" stop-color="#0018ff" stop-opacity="0.34"/><stop offset="0.5" stop-color="#60ffff" stop-opacity="0.12"/><stop offset="1" stop-color="#0018ff" stop-opacity="0.34"/></radialGradient>
<radialGradient id="rlRd" gradientUnits="userSpaceOnUse" cx="113.7" cy="81.3" r="3.9" spreadMethod="repeat"><stop offset="0" stop-color="#0010ff" stop-opacity="0.21"/><stop offset="0.5" stop-color="#80ffff" stop-opacity="0.14"/><stop offset="1" stop-color="#0010ff" stop-opacity="0.21"/></radialGradient>
<radialGradient id="mbd"><stop offset="0" stop-color="#00cdff"/><stop offset="0.45" stop-color="#00ddff"/><stop offset="0.74" stop-color="#00f4ff"/><stop offset="0.88" stop-color="#00c0ff" stop-opacity="0.95"/><stop offset="1" stop-color="#0050ff" stop-opacity="0"/></radialGradient>
<clipPath id="cLd"><rect x="0" y="0" width="100.1" height="200"/></clipPath><clipPath id="cRd"><rect x="81.9" y="0" width="200" height="200"/></clipPath>
</defs>
<g filter="url(#blur)">
<path d="M57.6 81.3A33.4 32.2 0 0 0 124.4 81.3Z" fill="url(#lod)"/>
<g clip-path="url(#clo)"><ellipse cx="91.0" cy="81.3" rx="32.5" ry="27.5" fill="url(#mbd)" opacity="0.95"/></g>
<path d="M68.0 81.3A23.0 12.6 0 0 1 114.0 81.3Z" fill="url(#upd)"/>
<g clip-path="url(#cLd)"><path d="M57.6 81.3A33.4 32.2 0 0 0 124.4 81.3Z" fill="url(#rlLd)"/>
<path d="M68.0 81.3A23.0 12.6 0 0 1 114.0 81.3Z" fill="url(#ruLd)"/></g>
<g clip-path="url(#cRd)"><path d="M57.6 81.3A33.4 32.2 0 0 0 124.4 81.3Z" fill="url(#rlRd)"/>
<path d="M68.0 81.3A23.0 12.6 0 0 1 114.0 81.3Z" fill="url(#ruRd)"/></g>
<g clip-path="url(#clo)"><ellipse cx="91.0" cy="81.3" rx="32.5" ry="27.5" fill="url(#mbd)" opacity="0.35"/></g>
<g clip-path="url(#clo)">
<ellipse cx="69.60" cy="84.10" rx="5.40" ry="4.00" fill="url(#gr)" />
<ellipse cx="112.40" cy="84.10" rx="5.40" ry="4.00" fill="url(#gr)" />
</g>
<ellipse cx="68.30" cy="82.20" rx="1.80" ry="1.70" fill="url(#rd)" />
<ellipse cx="113.70" cy="82.20" rx="1.80" ry="1.70" fill="url(#rd)" />
<ellipse cx="91.00" cy="84.90" rx="1.30" ry="1.10" fill="#0028ff" opacity="0.80"/>
<ellipse cx="91.00" cy="88.50" rx="1.60" ry="1.50" fill="#30ff30" opacity="0.75"/>
<ellipse cx="91.00" cy="92.30" rx="1.30" ry="1.10" fill="#0028ff" opacity="0.61"/>
<ellipse cx="91.00" cy="95.30" rx="1.60" ry="1.50" fill="#30ff30" opacity="0.54"/>
<ellipse cx="91.00" cy="98.70" rx="1.30" ry="1.10" fill="#0028ff" opacity="0.42"/>
<ellipse cx="91.00" cy="69.90" rx="1.30" ry="1.10" fill="#40ff40" opacity="0.6"/>
<ellipse cx="91.00" cy="73.30" rx="1.20" ry="1.00" fill="#0040ff" opacity="0.7"/>
<ellipse cx="91.00" cy="76.50" rx="1.30" ry="1.10" fill="#40ff40" opacity="0.6"/>
<ellipse cx="91.00" cy="79.30" rx="1.20" ry="1.00" fill="#0040ff" opacity="0.7"/>
</g>
<path d="M23 67.11A170.0 170.0 0 0 0 68.30 79.78M113.70 79.78A170.0 170.0 0 0 0 158.7 67.24" stroke="#fff" stroke-width="0.75" fill="none"/>
<line x1="23" y1="81.3" x2="158.7" y2="81.3" stroke="#fff" stroke-width="0.8"/>
<g fill="#fff" stroke="#fff" stroke-width="0.12">
<text x="25" y="55.8" font-size="6.6">Pressure field in liquid</text>
<text x="100" y="63.2" font-size="6.7">Water drop surface</text>
<text x="25" y="91.8" font-size="5.4">Interface</text>
<text x="30" y="139.8" font-size="5.4">Stress field in solid</text>
</g>
</g>
<rect x="22.65" y="47.05" width="136.39999999999998" height="102.7" fill="none" stroke="#000" stroke-width="0.7"/>
<path d="M23.00 47.4v-1.6M23.00 149.4v-1.6M31.50 47.4v-1.0M31.50 149.4v-1.0M40.00 47.4v-1.6M40.00 149.4v-1.6M48.50 47.4v-1.0M48.50 149.4v-1.0M57.00 47.4v-1.6M57.00 149.4v-1.6M65.50 47.4v-1.0M65.50 149.4v-1.0M74.00 47.4v-1.6M74.00 149.4v-1.6M82.50 47.4v-1.0M82.50 149.4v-1.0M91.00 47.4v-1.6M91.00 149.4v-1.6M99.50 47.4v-1.0M99.50 149.4v-1.0M108.00 47.4v-1.6M108.00 149.4v-1.6M116.50 47.4v-1.0M116.50 149.4v-1.0M125.00 47.4v-1.6M125.00 149.4v-1.6M133.50 47.4v-1.0M133.50 149.4v-1.0M142.00 47.4v-1.6M142.00 149.4v-1.6M150.50 47.4v-1.0M150.50 149.4v-1.0M159.00 47.4v-1.6M159.00 149.4v-1.6M23 47.40h-1.6M158.7 47.40h-1.6M23 55.90h-1.0M158.7 55.90h-1.0M23 64.40h-1.6M158.7 64.40h-1.6M23 72.90h-1.0M158.7 72.90h-1.0M23 81.40h-1.6M158.7 81.40h-1.6M23 89.90h-1.0M158.7 89.90h-1.0M23 98.40h-1.6M158.7 98.40h-1.6M23 106.90h-1.0M158.7 106.90h-1.0M23 115.40h-1.6M158.7 115.40h-1.6M23 123.90h-1.0M158.7 123.90h-1.0M23 132.40h-1.6M158.7 132.40h-1.6M23 140.90h-1.0M158.7 140.90h-1.0M23 149.40h-1.6M158.7 149.40h-1.6" stroke="#000" stroke-width="0.45" fill="none"/>
<g font-size="5.1" fill="#000">
<text x="22.2" y="44.7" text-anchor="middle">-0.4</text>
<text x="22.8" y="157.0" text-anchor="middle">-0.4</text>
<text x="39.2" y="44.7" text-anchor="middle">-0.3</text>
<text x="39.2" y="157.0" text-anchor="middle">-0.3</text>
<text x="56.2" y="44.7" text-anchor="middle">-0.2</text>
<text x="56.2" y="157.0" text-anchor="middle">-0.2</text>
<text x="73.2" y="44.7" text-anchor="middle">-0.1</text>
<text x="73.2" y="157.0" text-anchor="middle">-0.1</text>
<text x="90.7" y="44.7" text-anchor="middle">0.0</text>
<text x="90.7" y="157.0" text-anchor="middle">0.0</text>
<text x="107.7" y="44.7" text-anchor="middle">0.1</text>
<text x="107.7" y="157.0" text-anchor="middle">0.1</text>
<text x="124.7" y="44.7" text-anchor="middle">0.2</text>
<text x="124.7" y="157.0" text-anchor="middle">0.2</text>
<text x="141.7" y="44.7" text-anchor="middle">0.3</text>
<text x="141.7" y="157.0" text-anchor="middle">0.3</text>
<text x="158.7" y="44.7" text-anchor="middle">0.4</text>
<text x="158.7" y="157.0" text-anchor="middle">0.4</text>
<text x="21" y="48.7" text-anchor="end">-0.8</text>
<text x="21" y="66.0" text-anchor="end">-0.9</text>
<text x="21" y="82.5" text-anchor="end">-1.0</text>
<text x="22" y="86.9" text-anchor="end">-1.0</text>
<text x="20.5" y="103.7" text-anchor="end">-0.9</text>
<text x="20.5" y="120.0" text-anchor="end">-0.8</text>
<text x="20.5" y="136.7" text-anchor="end">-0.7</text>
<text x="21" y="154.7" text-anchor="end">-0.6</text>
<text x="160.5" y="48.7">-0.8</text>
<text x="160.5" y="66.0">-0.9</text>
<text x="162" y="82.6">-1.0</text>
<text x="164" y="87.5">-1.0</text>
<text x="163" y="104.5">-0.9</text>
<text x="163" y="120.7">-0.8</text>
<text x="163" y="138.2">-0.7</text>
<text x="163" y="154.4">-0.6</text>
<text x="91" y="165.5" text-anchor="middle">R</text>
<text transform="translate(9.4,62) rotate(-90)" text-anchor="middle">X</text>
<text transform="translate(7.4,115.75) rotate(-90)" text-anchor="middle">X</text>
<text transform="translate(174.0,64.25) rotate(-90)" text-anchor="middle">X</text>
<text transform="translate(174.0,109.5) rotate(-90)" text-anchor="middle">X</text>
</g>
</g>
<text class="cap" x="341" y="367.9" text-anchor="middle"><tspan>(d)</tspan> t = 40 ns</text>
<defs><clipPath id="clipe"><rect x="23" y="47.4" width="135.7" height="102.0"/></clipPath></defs>
<g transform="translate(3.10,374.02) scale(0.9736)">
<rect x="14.00" y="3" width="6.33" height="18" fill="#0000ff"/>
<rect x="20.03" y="3" width="6.33" height="18" fill="#0000ff"/>
<rect x="26.06" y="3" width="6.33" height="18" fill="#001eff"/>
<rect x="32.09" y="3" width="6.33" height="18" fill="#0041ff"/>
<rect x="38.12" y="3" width="6.33" height="18" fill="#0064ff"/>
<rect x="44.15" y="3" width="6.33" height="18" fill="#0087ff"/>
<rect x="50.18" y="3" width="6.33" height="18" fill="#00aaff"/>
<rect x="56.21" y="3" width="6.33" height="18" fill="#00cdff"/>
<rect x="62.24" y="3" width="6.33" height="18" fill="#00f1ff"/>
<rect x="68.27" y="3" width="6.33" height="18" fill="#00ffeb"/>
<rect x="74.30" y="3" width="6.33" height="18" fill="#00ffca"/>
<rect x="80.33" y="3" width="6.33" height="18" fill="#00ffa8"/>
<rect x="86.36" y="3" width="6.33" height="18" fill="#00ff86"/>
<rect x="92.39" y="3" width="6.33" height="18" fill="#00ff65"/>
<rect x="98.42" y="3" width="6.33" height="18" fill="#00ff43"/>
<rect x="104.45" y="3" width="6.33" height="18" fill="#00ff22"/>
<rect x="110.48" y="3" width="6.33" height="18" fill="#00ff00"/>
<rect x="116.52" y="3" width="6.33" height="18" fill="#21ff00"/>
<rect x="122.55" y="3" width="6.33" height="18" fill="#42ff00"/>
<rect x="128.58" y="3" width="6.33" height="18" fill="#63ff00"/>
<rect x="134.61" y="3" width="6.33" height="18" fill="#84ff00"/>
<rect x="140.64" y="3" width="6.33" height="18" fill="#a4ff00"/>
<rect x="146.67" y="3" width="6.33" height="18" fill="#c5ff00"/>
<rect x="152.70" y="3" width="6.33" height="18" fill="#e6ff00"/>
<rect x="158.73" y="3" width="6.33" height="18" fill="#fff600"/>
<rect x="164.76" y="3" width="6.33" height="18" fill="#ffd000"/>
<rect x="170.79" y="3" width="6.33" height="18" fill="#ffaa00"/>
<rect x="176.82" y="3" width="6.33" height="18" fill="#ff8500"/>
<rect x="182.85" y="3" width="6.33" height="18" fill="#ff5f00"/>
<rect x="188.88" y="3" width="6.33" height="18" fill="#ff3900"/>
<rect x="194.91" y="3" width="6.33" height="18" fill="#ff1400"/>
<rect x="200.94" y="3" width="6.33" height="18" fill="#ff0000"/>
<rect x="206.97" y="3" width="6.33" height="18" fill="#ff0000"/>
<g font-size="4.7" fill="#000">
<text x="14" y="27.2">0.000</text>
<text x="83" y="27.2" text-anchor="middle">1.700</text>
<text x="145.5" y="27.2" text-anchor="middle">3.400</text>
<text x="213" y="27.2" text-anchor="end">5.040</text>
</g>
<rect x="179" y="41.00" width="23" height="3.63" fill="#0000ff"/>
<rect x="179" y="44.33" width="23" height="3.63" fill="#0000ff"/>
<rect x="179" y="47.67" width="23" height="3.63" fill="#0000ff"/>
<rect x="179" y="51.00" width="23" height="3.63" fill="#0041ff"/>
<rect x="179" y="54.33" width="23" height="3.63" fill="#0064ff"/>
<rect x="179" y="57.67" width="23" height="3.63" fill="#0087ff"/>
<rect x="179" y="61.00" width="23" height="3.63" fill="#00aaff"/>
<rect x="179" y="64.33" width="23" height="3.63" fill="#00cdff"/>
<rect x="179" y="67.67" width="23" height="3.63" fill="#00f1ff"/>
<rect x="179" y="71.00" width="23" height="3.63" fill="#00ffeb"/>
<rect x="179" y="74.33" width="23" height="3.63" fill="#00ffca"/>
<rect x="179" y="77.67" width="23" height="3.63" fill="#00ffa8"/>
<rect x="179" y="81.00" width="23" height="3.63" fill="#00ff86"/>
<rect x="179" y="84.33" width="23" height="3.63" fill="#00ff65"/>
<rect x="179" y="87.67" width="23" height="3.63" fill="#00ff43"/>
<rect x="179" y="91.00" width="23" height="3.63" fill="#00ff22"/>
<rect x="179" y="94.33" width="23" height="3.63" fill="#00ff00"/>
<rect x="179" y="97.67" width="23" height="3.63" fill="#21ff00"/>
<rect x="179" y="101.00" width="23" height="3.63" fill="#42ff00"/>
<rect x="179" y="104.33" width="23" height="3.63" fill="#63ff00"/>
<rect x="179" y="107.67" width="23" height="3.63" fill="#84ff00"/>
<rect x="179" y="111.00" width="23" height="3.63" fill="#a4ff00"/>
<rect x="179" y="114.33" width="23" height="3.63" fill="#c5ff00"/>
<rect x="179" y="117.67" width="23" height="3.63" fill="#e6ff00"/>
<rect x="179" y="121.00" width="23" height="3.63" fill="#fff600"/>
<rect x="179" y="124.33" width="23" height="3.63" fill="#ffd000"/>
<rect x="179" y="127.67" width="23" height="3.63" fill="#ffaa00"/>
<rect x="179" y="131.00" width="23" height="3.63" fill="#ff8500"/>
<rect x="179" y="134.33" width="23" height="3.63" fill="#ff5f00"/>
<rect x="179" y="137.67" width="23" height="3.63" fill="#ff3900"/>
<rect x="179" y="141.00" width="23" height="3.63" fill="#ff1400"/>
<rect x="179" y="144.33" width="23" height="3.63" fill="#ff0000"/>
<rect x="179" y="147.67" width="23" height="3.63" fill="#ff0000"/>
<g font-size="4.7" fill="#000">
<text x="204.5" y="46.0">0.000</text>
<text x="204.5" y="63.9">0.6000</text>
<text x="204.5" y="81.8">1.200</text>
<text x="204.5" y="99.7">1.800</text>
<text x="204.5" y="117.6">2.400</text>
<text x="204.5" y="135.5">3.000</text>
<text x="204.5" y="149.6">3.460</text>
</g>
<rect x="23" y="47.4" width="135.7" height="102.0" fill="#0000ff"/>
<g clip-path="url(#clipe)">
<defs>
<radialGradient id="loe" gradientUnits="userSpaceOnUse" cx="91.0" cy="81.3" r="38.9" gradientTransform="translate(0,81.3) scale(1,1.0797) translate(0,-81.3)"><stop offset="0.000" stop-color="#00ffff"/><stop offset="0.025" stop-color="#00d1ff"/><stop offset="0.050" stop-color="#0067ff"/><stop offset="0.075" stop-color="#00cbff"/><stop offset="0.100" stop-color="#00ffff"/><stop offset="0.125" stop-color="#00c6ff"/><stop offset="0.150" stop-color="#0061ff"/><stop offset="0.175" stop-color="#00c0ff"/><stop offset="0.200" stop-color="#00ffff"/><stop offset="0.225" stop-color="#00bbff"/><stop offset="0.250" stop-color="#005cff"/><stop offset="0.275" stop-color="#00b5ff"/><stop offset="0.300" stop-color="#00ffff"/><stop offset="0.325" stop-color="#00afff"/><stop offset="0.350" stop-color="#0056ff"/><stop offset="0.375" stop-color="#00a7ff"/><stop offset="0.400" stop-color="#00f2ff"/><stop offset="0.425" stop-color="#009bff"/><stop offset="0.450" stop-color="#004bff"/><stop offset="0.475" stop-color="#0090ff"/><stop offset="0.500" stop-color="#00d0ff"/><stop offset="0.525" stop-color="#0085ff"/><stop offset="0.550" stop-color="#003fff"/><stop offset="0.575" stop-color="#0078ff"/><stop offset="0.600" stop-color="#00abff"/><stop offset="0.625" stop-color="#006bff"/><stop offset="0.650" stop-color="#0032ff"/><stop offset="0.675" stop-color="#005eff"/><stop offset="0.700" stop-color="#0083ff"/><stop offset="0.725" stop-color="#0051ff"/><stop offset="0.750" stop-color="#0025ff"/><stop offset="0.775" stop-color="#0044ff"/><stop offset="0.800" stop-color="#005cff"/><stop offset="0.825" stop-color="#0036ff"/><stop offset="0.850" stop-color="#0018ff"/><stop offset="0.875" stop-color="#0029ff"/><stop offset="0.900" stop-color="#0032ff"/><stop offset="0.925" stop-color="#001aff"/><stop offset="0.950" stop-color="#0009ff"/><stop offset="0.975" stop-color="#0009ff"/><stop offset="1.000" stop-color="#0000ff"/></radialGradient>
<radialGradient id="upe" gradientUnits="userSpaceOnUse" cx="91.0" cy="81.3" r="25.3" gradientTransform="translate(0,81.3) scale(1,0.5929) translate(0,-81.3)"><stop offset="0" stop-color="#00e4ff"/><stop offset="0.7" stop-color="#00d4ff"/><stop offset="0.92" stop-color="#00a0ff"/><stop offset="1" stop-color="#0040ff"/></radialGradient>
<radialGradient id="ruLe" gradientUnits="userSpaceOnUse" cx="66.0" cy="81.3" r="2.7" spreadMethod="repeat"><stop offset="0" stop-color="#0018ff" stop-opacity="0.39"/><stop offset="0.5" stop-color="#60ffff" stop-opacity="0.12"/><stop offset="1" stop-color="#0018ff" stop-opacity="0.39"/></radialGradient>
<radialGradient id="rlLe" gradientUnits="userSpaceOnUse" cx="66.0" cy="81.3" r="3.5" spreadMethod="repeat"><stop offset="0" stop-color="#0010ff" stop-opacity="0.24"/><stop offset="0.5" stop-color="#80ffff" stop-opacity="0.14"/><stop offset="1" stop-color="#0010ff" stop-opacity="0.24"/></radialGradient>
<radialGradient id="ruRe" gradientUnits="userSpaceOnUse" cx="116.0" cy="81.3" r="2.7" spreadMethod="repeat"><stop offset="0" stop-color="#0018ff" stop-opacity="0.39"/><stop offset="0.5" stop-color="#60ffff" stop-opacity="0.12"/><stop offset="1" stop-color="#0018ff" stop-opacity="0.39"/></radialGradient>
<radialGradient id="rlRe" gradientUnits="userSpaceOnUse" cx="116.0" cy="81.3" r="3.5" spreadMethod="repeat"><stop offset="0" stop-color="#0010ff" stop-opacity="0.24"/><stop offset="0.5" stop-color="#80ffff" stop-opacity="0.14"/><stop offset="1" stop-color="#0010ff" stop-opacity="0.24"/></radialGradient>
<radialGradient id="mbe"><stop offset="0" stop-color="#00afff"/><stop offset="0.45" stop-color="#00bfff"/><stop offset="0.74" stop-color="#00f4ff"/><stop offset="0.88" stop-color="#00c0ff" stop-opacity="0.95"/><stop offset="1" stop-color="#0050ff" stop-opacity="0"/></radialGradient>
<clipPath id="cLe"><rect x="0" y="0" width="101.0" height="200"/></clipPath><clipPath id="cRe"><rect x="81.0" y="0" width="200" height="200"/></clipPath>
</defs>
<g filter="url(#blur)">
<path d="M52.1 81.3A38.9 42.0 0 0 0 129.9 81.3Z" fill="url(#loe)"/>
<g clip-path="url(#clo)"><ellipse cx="91.0" cy="81.3" rx="35.0" ry="30.5" fill="url(#mbe)" opacity="0.95"/></g>
<path d="M65.7 81.3A25.3 15.0 0 0 1 116.3 81.3Z" fill="url(#upe)"/>
<g clip-path="url(#cLe)"><path d="M52.1 81.3A38.9 42.0 0 0 0 129.9 81.3Z" fill="url(#rlLe)"/>
<path d="M65.7 81.3A25.3 15.0 0 0 1 116.3 81.3Z" fill="url(#ruLe)"/></g>
<g clip-path="url(#cRe)"><path d="M52.1 81.3A38.9 42.0 0 0 0 129.9 81.3Z" fill="url(#rlRe)"/>
<path d="M65.7 81.3A25.3 15.0 0 0 1 116.3 81.3Z" fill="url(#ruRe)"/></g>
<g clip-path="url(#clo)"><ellipse cx="91.0" cy="81.3" rx="35.0" ry="30.5" fill="url(#mbe)" opacity="0.35"/></g>
<g clip-path="url(#clo)">
<ellipse cx="67.20" cy="84.30" rx="6.00" ry="4.40" fill="url(#gr)" />
<ellipse cx="114.80" cy="84.30" rx="6.00" ry="4.40" fill="url(#gr)" />
</g>
<ellipse cx="66.00" cy="82.20" rx="1.80" ry="1.70" fill="url(#rd)" />
<ellipse cx="116.00" cy="82.20" rx="1.80" ry="1.70" fill="url(#rd)" />
<ellipse cx="91.00" cy="85.20" rx="1.30" ry="1.10" fill="#0028ff" opacity="0.80"/>
<ellipse cx="91.00" cy="89.50" rx="1.60" ry="1.50" fill="#30ff30" opacity="0.78"/>
<ellipse cx="91.00" cy="92.90" rx="1.30" ry="1.10" fill="#0028ff" opacity="0.66"/>
<ellipse cx="91.00" cy="96.10" rx="1.60" ry="1.50" fill="#30ff30" opacity="0.63"/>
<ellipse cx="91.00" cy="99.30" rx="1.30" ry="1.10" fill="#0028ff" opacity="0.53"/>
<ellipse cx="91.00" cy="102.50" rx="1.60" ry="1.50" fill="#30ff30" opacity="0.49"/>
<ellipse cx="91.00" cy="105.70" rx="1.30" ry="1.10" fill="#0028ff" opacity="0.39"/>
<ellipse cx="91.00" cy="67.70" rx="1.30" ry="1.10" fill="#40ff40" opacity="0.6"/>
<ellipse cx="91.00" cy="70.90" rx="1.20" ry="1.00" fill="#0040ff" opacity="0.7"/>
<ellipse cx="91.00" cy="74.10" rx="1.30" ry="1.10" fill="#40ff40" opacity="0.6"/>
<ellipse cx="91.00" cy="77.30" rx="1.20" ry="1.00" fill="#0040ff" opacity="0.7"/>
</g>
<path d="M23 67.11A170.0 170.0 0 0 0 66.00 79.45M116.00 79.45A170.0 170.0 0 0 0 158.7 67.24" stroke="#fff" stroke-width="0.75" fill="none"/>
<line x1="23" y1="81.3" x2="158.7" y2="81.3" stroke="#fff" stroke-width="0.8"/>
<path d="M23.00 79.40V83.20M31.50 80.00V82.60M40.00 79.40V83.20M48.50 80.00V82.60M57.00 79.40V83.20M65.50 80.00V82.60M74.00 79.40V83.20M82.50 80.00V82.60M91.00 79.40V83.20M99.50 80.00V82.60M108.00 79.40V83.20M116.50 80.00V82.60M125.00 79.40V83.20M133.50 80.00V82.60M142.00 79.40V83.20M150.50 80.00V82.60M159.00 79.40V83.20" stroke="#fff" stroke-width="0.7" fill="none"/>
<g fill="#fff" stroke="#fff" stroke-width="0.12">
<text x="25" y="55.8" font-size="6.6">Pressure field in liquid</text>
<text x="100" y="63.2" font-size="6.7">Water drop surface</text>
<text x="25" y="91.8" font-size="5.4">Interface</text>
<text x="30" y="139.8" font-size="5.4">Stress field in solid</text>
</g>
</g>
<rect x="22.65" y="47.05" width="136.39999999999998" height="102.7" fill="none" stroke="#000" stroke-width="0.7"/>
<path d="M23.00 47.4v-1.6M23.00 149.4v-1.6M31.50 47.4v-1.0M31.50 149.4v-1.0M40.00 47.4v-1.6M40.00 149.4v-1.6M48.50 47.4v-1.0M48.50 149.4v-1.0M57.00 47.4v-1.6M57.00 149.4v-1.6M65.50 47.4v-1.0M65.50 149.4v-1.0M74.00 47.4v-1.6M74.00 149.4v-1.6M82.50 47.4v-1.0M82.50 149.4v-1.0M91.00 47.4v-1.6M91.00 149.4v-1.6M99.50 47.4v-1.0M99.50 149.4v-1.0M108.00 47.4v-1.6M108.00 149.4v-1.6M116.50 47.4v-1.0M116.50 149.4v-1.0M125.00 47.4v-1.6M125.00 149.4v-1.6M133.50 47.4v-1.0M133.50 149.4v-1.0M142.00 47.4v-1.6M142.00 149.4v-1.6M150.50 47.4v-1.0M150.50 149.4v-1.0M159.00 47.4v-1.6M159.00 149.4v-1.6M23 47.40h-1.6M158.7 47.40h-1.6M23 55.90h-1.0M158.7 55.90h-1.0M23 64.40h-1.6M158.7 64.40h-1.6M23 72.90h-1.0M158.7 72.90h-1.0M23 81.40h-1.6M158.7 81.40h-1.6M23 89.90h-1.0M158.7 89.90h-1.0M23 98.40h-1.6M158.7 98.40h-1.6M23 106.90h-1.0M158.7 106.90h-1.0M23 115.40h-1.6M158.7 115.40h-1.6M23 123.90h-1.0M158.7 123.90h-1.0M23 132.40h-1.6M158.7 132.40h-1.6M23 140.90h-1.0M158.7 140.90h-1.0M23 149.40h-1.6M158.7 149.40h-1.6" stroke="#000" stroke-width="0.45" fill="none"/>
<g font-size="5.1" fill="#000">
<text x="22.2" y="44.7" text-anchor="middle">-0.4</text>
<text x="22.8" y="157.0" text-anchor="middle">-0.4</text>
<text x="39.2" y="44.7" text-anchor="middle">-0.3</text>
<text x="39.2" y="157.0" text-anchor="middle">-0.3</text>
<text x="56.2" y="44.7" text-anchor="middle">-0.2</text>
<text x="56.2" y="157.0" text-anchor="middle">-0.2</text>
<text x="73.2" y="44.7" text-anchor="middle">-0.1</text>
<text x="73.2" y="157.0" text-anchor="middle">-0.1</text>
<text x="90.7" y="44.7" text-anchor="middle">0.0</text>
<text x="90.7" y="157.0" text-anchor="middle">0.0</text>
<text x="107.7" y="44.7" text-anchor="middle">0.1</text>
<text x="107.7" y="157.0" text-anchor="middle">0.1</text>
<text x="124.7" y="44.7" text-anchor="middle">0.2</text>
<text x="124.7" y="157.0" text-anchor="middle">0.2</text>
<text x="141.7" y="44.7" text-anchor="middle">0.3</text>
<text x="141.7" y="157.0" text-anchor="middle">0.3</text>
<text x="158.7" y="44.7" text-anchor="middle">0.4</text>
<text x="158.7" y="157.0" text-anchor="middle">0.4</text>
<text x="21" y="48.7" text-anchor="end">-0.8</text>
<text x="21" y="66.0" text-anchor="end">-0.9</text>
<text x="21" y="82.5" text-anchor="end">-1.0</text>
<text x="22" y="86.9" text-anchor="end">-1.0</text>
<text x="20.5" y="103.7" text-anchor="end">-0.9</text>
<text x="20.5" y="120.0" text-anchor="end">-0.8</text>
<text x="20.5" y="136.7" text-anchor="end">-0.7</text>
<text x="21" y="154.7" text-anchor="end">-0.6</text>
<text x="160.5" y="48.7">-0.8</text>
<text x="160.5" y="66.0">-0.9</text>
<text x="162" y="82.6">-1.0</text>
<text x="164" y="87.5">-1.0</text>
<text x="163" y="104.5">-0.9</text>
<text x="163" y="120.7">-0.8</text>
<text x="163" y="138.2">-0.7</text>
<text x="163" y="154.4">-0.6</text>
<text x="91" y="165.5" text-anchor="middle">R</text>
<text transform="translate(9.4,62) rotate(-90)" text-anchor="middle">X</text>
<text transform="translate(7.4,115.75) rotate(-90)" text-anchor="middle">X</text>
<text transform="translate(174.0,64.25) rotate(-90)" text-anchor="middle">X</text>
<text transform="translate(174.0,109.5) rotate(-90)" text-anchor="middle">X</text>
</g>
</g>
<text class="cap" x="108" y="546" text-anchor="middle"><tspan>(e)</tspan> t = 50 ns</text>
<defs><clipPath id="clipf"><rect x="23" y="47.4" width="135.7" height="102.0"/></clipPath></defs>
<g transform="translate(239.26,374.16) scale(0.9395)">
<rect x="14.00" y="3" width="6.33" height="18" fill="#0000ff"/>
<rect x="20.03" y="3" width="6.33" height="18" fill="#0000ff"/>
<rect x="26.06" y="3" width="6.33" height="18" fill="#001eff"/>
<rect x="32.09" y="3" width="6.33" height="18" fill="#0041ff"/>
<rect x="38.12" y="3" width="6.33" height="18" fill="#0064ff"/>
<rect x="44.15" y="3" width="6.33" height="18" fill="#0087ff"/>
<rect x="50.18" y="3" width="6.33" height="18" fill="#00aaff"/>
<rect x="56.21" y="3" width="6.33" height="18" fill="#00cdff"/>
<rect x="62.24" y="3" width="6.33" height="18" fill="#00f1ff"/>
<rect x="68.27" y="3" width="6.33" height="18" fill="#00ffeb"/>
<rect x="74.30" y="3" width="6.33" height="18" fill="#00ffca"/>
<rect x="80.33" y="3" width="6.33" height="18" fill="#00ffa8"/>
<rect x="86.36" y="3" width="6.33" height="18" fill="#00ff86"/>
<rect x="92.39" y="3" width="6.33" height="18" fill="#00ff65"/>
<rect x="98.42" y="3" width="6.33" height="18" fill="#00ff43"/>
<rect x="104.45" y="3" width="6.33" height="18" fill="#00ff22"/>
<rect x="110.48" y="3" width="6.33" height="18" fill="#00ff00"/>
<rect x="116.52" y="3" width="6.33" height="18" fill="#21ff00"/>
<rect x="122.55" y="3" width="6.33" height="18" fill="#42ff00"/>
<rect x="128.58" y="3" width="6.33" height="18" fill="#63ff00"/>
<rect x="134.61" y="3" width="6.33" height="18" fill="#84ff00"/>
<rect x="140.64" y="3" width="6.33" height="18" fill="#a4ff00"/>
<rect x="146.67" y="3" width="6.33" height="18" fill="#c5ff00"/>
<rect x="152.70" y="3" width="6.33" height="18" fill="#e6ff00"/>
<rect x="158.73" y="3" width="6.33" height="18" fill="#fff600"/>
<rect x="164.76" y="3" width="6.33" height="18" fill="#ffd000"/>
<rect x="170.79" y="3" width="6.33" height="18" fill="#ffaa00"/>
<rect x="176.82" y="3" width="6.33" height="18" fill="#ff8500"/>
<rect x="182.85" y="3" width="6.33" height="18" fill="#ff5f00"/>
<rect x="188.88" y="3" width="6.33" height="18" fill="#ff3900"/>
<rect x="194.91" y="3" width="6.33" height="18" fill="#ff1400"/>
<rect x="200.94" y="3" width="6.33" height="18" fill="#ff0000"/>
<rect x="206.97" y="3" width="6.33" height="18" fill="#ff0000"/>
<g font-size="4.7" fill="#000">
<text x="14" y="27.2">0.000</text>
<text x="83" y="27.2" text-anchor="middle">1.700</text>
<text x="145.5" y="27.2" text-anchor="middle">3.400</text>
<text x="213" y="27.2" text-anchor="end">5.040</text>
</g>
<rect x="179" y="41.00" width="23" height="3.63" fill="#0000ff"/>
<rect x="179" y="44.33" width="23" height="3.63" fill="#0000ff"/>
<rect x="179" y="47.67" width="23" height="3.63" fill="#0000ff"/>
<rect x="179" y="51.00" width="23" height="3.63" fill="#0041ff"/>
<rect x="179" y="54.33" width="23" height="3.63" fill="#0064ff"/>
<rect x="179" y="57.67" width="23" height="3.63" fill="#0087ff"/>
<rect x="179" y="61.00" width="23" height="3.63" fill="#00aaff"/>
<rect x="179" y="64.33" width="23" height="3.63" fill="#00cdff"/>
<rect x="179" y="67.67" width="23" height="3.63" fill="#00f1ff"/>
<rect x="179" y="71.00" width="23" height="3.63" fill="#00ffeb"/>
<rect x="179" y="74.33" width="23" height="3.63" fill="#00ffca"/>
<rect x="179" y="77.67" width="23" height="3.63" fill="#00ffa8"/>
<rect x="179" y="81.00" width="23" height="3.63" fill="#00ff86"/>
<rect x="179" y="84.33" width="23" height="3.63" fill="#00ff65"/>
<rect x="179" y="87.67" width="23" height="3.63" fill="#00ff43"/>
<rect x="179" y="91.00" width="23" height="3.63" fill="#00ff22"/>
<rect x="179" y="94.33" width="23" height="3.63" fill="#00ff00"/>
<rect x="179" y="97.67" width="23" height="3.63" fill="#21ff00"/>
<rect x="179" y="101.00" width="23" height="3.63" fill="#42ff00"/>
<rect x="179" y="104.33" width="23" height="3.63" fill="#63ff00"/>
<rect x="179" y="107.67" width="23" height="3.63" fill="#84ff00"/>
<rect x="179" y="111.00" width="23" height="3.63" fill="#a4ff00"/>
<rect x="179" y="114.33" width="23" height="3.63" fill="#c5ff00"/>
<rect x="179" y="117.67" width="23" height="3.63" fill="#e6ff00"/>
<rect x="179" y="121.00" width="23" height="3.63" fill="#fff600"/>
<rect x="179" y="124.33" width="23" height="3.63" fill="#ffd000"/>
<rect x="179" y="127.67" width="23" height="3.63" fill="#ffaa00"/>
<rect x="179" y="131.00" width="23" height="3.63" fill="#ff8500"/>
<rect x="179" y="134.33" width="23" height="3.63" fill="#ff5f00"/>
<rect x="179" y="137.67" width="23" height="3.63" fill="#ff3900"/>
<rect x="179" y="141.00" width="23" height="3.63" fill="#ff1400"/>
<rect x="179" y="144.33" width="23" height="3.63" fill="#ff0000"/>
<rect x="179" y="147.67" width="23" height="3.63" fill="#ff0000"/>
<g font-size="4.7" fill="#000">
<text x="204.5" y="46.0">0.000</text>
<text x="204.5" y="63.9">0.6000</text>
<text x="204.5" y="81.8">1.200</text>
<text x="204.5" y="99.7">1.800</text>
<text x="204.5" y="117.6">2.400</text>
<text x="204.5" y="135.5">3.000</text>
<text x="204.5" y="149.6">3.460</text>
</g>
<rect x="23" y="47.4" width="135.7" height="102.0" fill="#0000ff"/>
<g clip-path="url(#clipf)">
<defs>
<radialGradient id="lof" gradientUnits="userSpaceOnUse" cx="91.0" cy="81.3" r="44.0" gradientTransform="translate(0,81.3) scale(1,1.1136) translate(0,-81.3)"><stop offset="0.000" stop-color="#00ffff"/><stop offset="0.021" stop-color="#00d2ff"/><stop offset="0.043" stop-color="#0067ff"/><stop offset="0.064" stop-color="#00cdff"/><stop offset="0.086" stop-color="#00ffff"/><stop offset="0.107" stop-color="#00c8ff"/><stop offset="0.129" stop-color="#0062ff"/><stop offset="0.150" stop-color="#00c3ff"/><stop offset="0.171" stop-color="#00ffff"/><stop offset="0.193" stop-color="#00beff"/><stop offset="0.214" stop-color="#005eff"/><stop offset="0.236" stop-color="#00b9ff"/><stop offset="0.257" stop-color="#00ffff"/><stop offset="0.279" stop-color="#00b4ff"/><stop offset="0.300" stop-color="#0059ff"/><stop offset="0.321" stop-color="#00b0ff"/><stop offset="0.343" stop-color="#00ffff"/><stop offset="0.364" stop-color="#00a9ff"/><stop offset="0.386" stop-color="#0052ff"/><stop offset="0.407" stop-color="#009fff"/><stop offset="0.429" stop-color="#00e8ff"/><stop offset="0.450" stop-color="#0096ff"/><stop offset="0.471" stop-color="#0048ff"/><stop offset="0.493" stop-color="#008cff"/><stop offset="0.514" stop-color="#00cbff"/><stop offset="0.536" stop-color="#0082ff"/><stop offset="0.557" stop-color="#003eff"/><stop offset="0.579" stop-color="#0077ff"/><stop offset="0.600" stop-color="#00abff"/><stop offset="0.621" stop-color="#006cff"/><stop offset="0.643" stop-color="#0033ff"/><stop offset="0.664" stop-color="#0061ff"/><stop offset="0.686" stop-color="#0089ff"/><stop offset="0.707" stop-color="#0055ff"/><stop offset="0.729" stop-color="#0028ff"/><stop offset="0.750" stop-color="#004aff"/><stop offset="0.771" stop-color="#0067ff"/><stop offset="0.793" stop-color="#003fff"/><stop offset="0.814" stop-color="#001cff"/><stop offset="0.836" stop-color="#0034ff"/><stop offset="0.857" stop-color="#0045ff"/><stop offset="0.879" stop-color="#0028ff"/><stop offset="0.900" stop-color="#0010ff"/><stop offset="0.921" stop-color="#001bff"/><stop offset="0.943" stop-color="#0020ff"/><stop offset="0.964" stop-color="#000dff"/><stop offset="0.986" stop-color="#0002ff"/></radialGradient>
<radialGradient id="upf" gradientUnits="userSpaceOnUse" cx="91.0" cy="81.3" r="27.4" gradientTransform="translate(0,81.3) scale(1,0.6569) translate(0,-81.3)"><stop offset="0" stop-color="#00e4ff"/><stop offset="0.7" stop-color="#00d4ff"/><stop offset="0.92" stop-color="#00a0ff"/><stop offset="1" stop-color="#0040ff"/></radialGradient>
<radialGradient id="ruLf" gradientUnits="userSpaceOnUse" cx="63.9" cy="81.3" r="2.5" spreadMethod="repeat"><stop offset="0" stop-color="#0018ff" stop-opacity="0.39"/><stop offset="0.5" stop-color="#60ffff" stop-opacity="0.12"/><stop offset="1" stop-color="#0018ff" stop-opacity="0.39"/></radialGradient>
<radialGradient id="rlLf" gradientUnits="userSpaceOnUse" cx="63.9" cy="81.3" r="3.2" spreadMethod="repeat"><stop offset="0" stop-color="#0010ff" stop-opacity="0.24"/><stop offset="0.5" stop-color="#80ffff" stop-opacity="0.14"/><stop offset="1" stop-color="#0010ff" stop-opacity="0.24"/></radialGradient>
<radialGradient id="ruRf" gradientUnits="userSpaceOnUse" cx="118.1" cy="81.3" r="2.5" spreadMethod="repeat"><stop offset="0" stop-color="#0018ff" stop-opacity="0.39"/><stop offset="0.5" stop-color="#60ffff" stop-opacity="0.12"/><stop offset="1" stop-color="#0018ff" stop-opacity="0.39"/></radialGradient>
<radialGradient id="rlRf" gradientUnits="userSpaceOnUse" cx="118.1" cy="81.3" r="3.2" spreadMethod="repeat"><stop offset="0" stop-color="#0010ff" stop-opacity="0.24"/><stop offset="0.5" stop-color="#80ffff" stop-opacity="0.14"/><stop offset="1" stop-color="#0010ff" stop-opacity="0.24"/></radialGradient>
<radialGradient id="mbf"><stop offset="0" stop-color="#0096ff"/><stop offset="0.45" stop-color="#00a6ff"/><stop offset="0.74" stop-color="#00f4ff"/><stop offset="0.88" stop-color="#00c0ff" stop-opacity="0.95"/><stop offset="1" stop-color="#0050ff" stop-opacity="0"/></radialGradient>
<clipPath id="cLf"><rect x="0" y="0" width="101.8" height="200"/></clipPath><clipPath id="cRf"><rect x="80.2" y="0" width="200" height="200"/></clipPath>
</defs>
<g filter="url(#blur)">
<path d="M47.0 81.3A44.0 49.0 0 0 0 135.0 81.3Z" fill="url(#lof)"/>
<g clip-path="url(#clo)"><ellipse cx="91.0" cy="81.3" rx="37.5" ry="33.0" fill="url(#mbf)" opacity="0.95"/></g>
<path d="M63.6 81.3A27.4 18.0 0 0 1 118.4 81.3Z" fill="url(#upf)"/>
<g clip-path="url(#cLf)"><path d="M47.0 81.3A44.0 49.0 0 0 0 135.0 81.3Z" fill="url(#rlLf)"/>
<path d="M63.6 81.3A27.4 18.0 0 0 1 118.4 81.3Z" fill="url(#ruLf)"/></g>
<g clip-path="url(#cRf)"><path d="M47.0 81.3A44.0 49.0 0 0 0 135.0 81.3Z" fill="url(#rlRf)"/>
<path d="M63.6 81.3A27.4 18.0 0 0 1 118.4 81.3Z" fill="url(#ruRf)"/></g>
<g clip-path="url(#clo)"><ellipse cx="91.0" cy="81.3" rx="37.5" ry="33.0" fill="url(#mbf)" opacity="0.35"/></g>
<g clip-path="url(#clo)">
<ellipse cx="65.20" cy="84.50" rx="6.60" ry="4.70" fill="url(#gr)" />
<ellipse cx="116.80" cy="84.50" rx="6.60" ry="4.70" fill="url(#gr)" />
</g>
<ellipse cx="63.90" cy="82.20" rx="1.80" ry="1.70" fill="url(#rd)" />
<ellipse cx="118.10" cy="82.20" rx="1.80" ry="1.70" fill="url(#rd)" />
<ellipse cx="91.00" cy="85.50" rx="1.30" ry="1.10" fill="#0028ff" opacity="0.80"/>
<ellipse cx="91.00" cy="90.80" rx="1.60" ry="1.50" fill="#30ff30" opacity="0.79"/>
<ellipse cx="91.00" cy="94.00" rx="1.30" ry="1.10" fill="#0028ff" opacity="0.68"/>
<ellipse cx="91.00" cy="97.30" rx="1.60" ry="1.50" fill="#30ff30" opacity="0.66"/>
<ellipse cx="91.00" cy="100.30" rx="1.30" ry="1.10" fill="#0028ff" opacity="0.56"/>
<ellipse cx="91.00" cy="103.50" rx="1.60" ry="1.50" fill="#30ff30" opacity="0.53"/>
<ellipse cx="91.00" cy="106.70" rx="1.30" ry="1.10" fill="#0028ff" opacity="0.44"/>
<ellipse cx="91.00" cy="109.90" rx="1.60" ry="1.50" fill="#30ff30" opacity="0.40"/>
<ellipse cx="91.00" cy="64.50" rx="1.30" ry="1.10" fill="#40ff40" opacity="0.6"/>
<ellipse cx="91.00" cy="68.10" rx="1.20" ry="1.00" fill="#0040ff" opacity="0.7"/>
<ellipse cx="91.00" cy="71.50" rx="1.30" ry="1.10" fill="#40ff40" opacity="0.6"/>
<ellipse cx="91.00" cy="74.90" rx="1.20" ry="1.00" fill="#0040ff" opacity="0.7"/>
<ellipse cx="91.00" cy="78.30" rx="1.30" ry="1.10" fill="#40ff40" opacity="0.6"/>
</g>
<path d="M23 67.11A170.0 170.0 0 0 0 63.90 79.13M118.10 79.13A170.0 170.0 0 0 0 158.7 67.24" stroke="#fff" stroke-width="0.75" fill="none"/>
<line x1="23" y1="81.3" x2="158.7" y2="81.3" stroke="#fff" stroke-width="0.8"/>
<path d="M23.00 79.40V83.20M31.50 80.00V82.60M40.00 79.40V83.20M48.50 80.00V82.60M57.00 79.40V83.20M65.50 80.00V82.60M74.00 79.40V83.20M82.50 80.00V82.60M91.00 79.40V83.20M99.50 80.00V82.60M108.00 79.40V83.20M116.50 80.00V82.60M125.00 79.40V83.20M133.50 80.00V82.60M142.00 79.40V83.20M150.50 80.00V82.60M159.00 79.40V83.20" stroke="#fff" stroke-width="0.7" fill="none"/>
<g fill="#fff" stroke="#fff" stroke-width="0.12">
<text x="25" y="55.8" font-size="6.6">Pressure field in liquid</text>
<text x="100" y="63.2" font-size="6.7">Water drop surface</text>
<text x="25" y="91.8" font-size="5.4">Interface</text>
<text x="30" y="139.8" font-size="5.4">Stress field in solid</text>
</g>
</g>
<rect x="22.65" y="47.05" width="136.39999999999998" height="102.7" fill="none" stroke="#000" stroke-width="0.7"/>
<path d="M23.00 47.4v-1.6M23.00 149.4v-1.6M31.50 47.4v-1.0M31.50 149.4v-1.0M40.00 47.4v-1.6M40.00 149.4v-1.6M48.50 47.4v-1.0M48.50 149.4v-1.0M57.00 47.4v-1.6M57.00 149.4v-1.6M65.50 47.4v-1.0M65.50 149.4v-1.0M74.00 47.4v-1.6M74.00 149.4v-1.6M82.50 47.4v-1.0M82.50 149.4v-1.0M91.00 47.4v-1.6M91.00 149.4v-1.6M99.50 47.4v-1.0M99.50 149.4v-1.0M108.00 47.4v-1.6M108.00 149.4v-1.6M116.50 47.4v-1.0M116.50 149.4v-1.0M125.00 47.4v-1.6M125.00 149.4v-1.6M133.50 47.4v-1.0M133.50 149.4v-1.0M142.00 47.4v-1.6M142.00 149.4v-1.6M150.50 47.4v-1.0M150.50 149.4v-1.0M159.00 47.4v-1.6M159.00 149.4v-1.6M23 47.40h-1.6M158.7 47.40h-1.6M23 55.90h-1.0M158.7 55.90h-1.0M23 64.40h-1.6M158.7 64.40h-1.6M23 72.90h-1.0M158.7 72.90h-1.0M23 81.40h-1.6M158.7 81.40h-1.6M23 89.90h-1.0M158.7 89.90h-1.0M23 98.40h-1.6M158.7 98.40h-1.6M23 106.90h-1.0M158.7 106.90h-1.0M23 115.40h-1.6M158.7 115.40h-1.6M23 123.90h-1.0M158.7 123.90h-1.0M23 132.40h-1.6M158.7 132.40h-1.6M23 140.90h-1.0M158.7 140.90h-1.0M23 149.40h-1.6M158.7 149.40h-1.6" stroke="#000" stroke-width="0.45" fill="none"/>
<g font-size="5.1" fill="#000">
<text x="22.2" y="44.7" text-anchor="middle">-0.4</text>
<text x="22.8" y="157.0" text-anchor="middle">-0.4</text>
<text x="39.2" y="44.7" text-anchor="middle">-0.3</text>
<text x="39.2" y="157.0" text-anchor="middle">-0.3</text>
<text x="56.2" y="44.7" text-anchor="middle">-0.2</text>
<text x="56.2" y="157.0" text-anchor="middle">-0.2</text>
<text x="73.2" y="44.7" text-anchor="middle">-0.1</text>
<text x="73.2" y="157.0" text-anchor="middle">-0.1</text>
<text x="90.7" y="44.7" text-anchor="middle">0.0</text>
<text x="90.7" y="157.0" text-anchor="middle">0.0</text>
<text x="107.7" y="44.7" text-anchor="middle">0.1</text>
<text x="107.7" y="157.0" text-anchor="middle">0.1</text>
<text x="124.7" y="44.7" text-anchor="middle">0.2</text>
<text x="124.7" y="157.0" text-anchor="middle">0.2</text>
<text x="141.7" y="44.7" text-anchor="middle">0.3</text>
<text x="141.7" y="157.0" text-anchor="middle">0.3</text>
<text x="158.7" y="44.7" text-anchor="middle">0.4</text>
<text x="158.7" y="157.0" text-anchor="middle">0.4</text>
<text x="21" y="48.7" text-anchor="end">-0.8</text>
<text x="21" y="66.0" text-anchor="end">-0.9</text>
<text x="21" y="82.5" text-anchor="end">-1.0</text>
<text x="22" y="86.9" text-anchor="end">-1.0</text>
<text x="20.5" y="103.7" text-anchor="end">-0.9</text>
<text x="20.5" y="120.0" text-anchor="end">-0.8</text>
<text x="20.5" y="136.7" text-anchor="end">-0.7</text>
<text x="21" y="154.7" text-anchor="end">-0.6</text>
<text x="160.5" y="48.7">-0.8</text>
<text x="160.5" y="66.0">-0.9</text>
<text x="162" y="82.6">-1.0</text>
<text x="164" y="87.5">-1.0</text>
<text x="163" y="104.5">-0.9</text>
<text x="163" y="120.7">-0.8</text>
<text x="163" y="138.2">-0.7</text>
<text x="163" y="154.4">-0.6</text>
<text x="91" y="165.5" text-anchor="middle">R</text>
<text transform="translate(9.4,62) rotate(-90)" text-anchor="middle">X</text>
<text transform="translate(7.4,115.75) rotate(-90)" text-anchor="middle">X</text>
<text transform="translate(174.0,64.25) rotate(-90)" text-anchor="middle">X</text>
<text transform="translate(174.0,109.5) rotate(-90)" text-anchor="middle">X</text>
</g>
</g>
<text class="cap" x="341" y="546.5" text-anchor="middle"><tspan style="font-weight:normal">(f)</tspan> t = 60 ns</text>
</svg></body></html>
